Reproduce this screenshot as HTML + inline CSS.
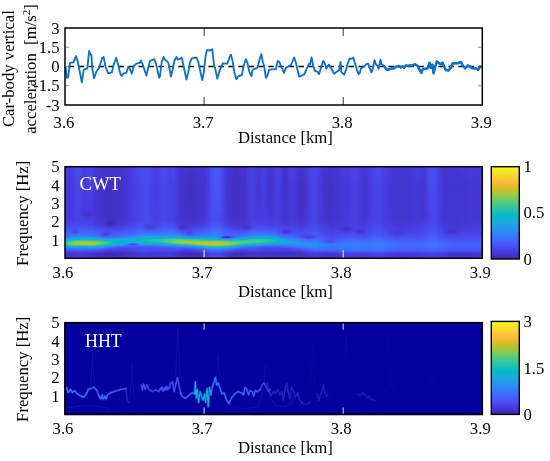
<!DOCTYPE html>
<html><head><meta charset="utf-8"><title>Figure</title>
<style>html,body{margin:0;padding:0;background:#fff;overflow:hidden}body{width:550px;height:461px;position:relative}.hm{position:absolute;overflow:hidden}.hm i{position:absolute;top:0;height:100%;display:block}</style></head>
<body>
<div class="hm" style="left:65.0px;top:166.7px;width:417.3px;height:91.6px"><i style="left:0.0px;width:2.5px;background:linear-gradient(#463ee1 0.0%,#463ada 23.5%,#463bdc 57.3%,#4742e6 63.9%,#465efb 72.6%,#416bfe 75.3%,#3a74fe 76.4%,#2f81fa 77.5%,#269ae8 79.1%,#19acdc 80.2%,#09b4d1 80.8%,#02bac5 81.3%,#24c2ae 82.4%,#2dc4a6 83.0%,#31c6a0 84.1%,#2ec4a5 84.6%,#24c1ae 85.2%,#0cbdbc 85.7%,#04b6cc 86.2%,#19addc 86.8%,#2a92ee 87.9%,#2e84f8 88.4%,#3876fe 89.0%,#4269fe 89.5%,#4759f9 90.6%,#4745e9 92.8%,#4537d6 94.4%,#4433cd 96.1%,#463adb 100.0%)"></i><i style="left:2.0px;width:2.5px;background:linear-gradient(#463cde 0.0%,#4538d8 21.8%,#463bdc 57.3%,#4740e4 62.8%,#4759f8 71.5%,#426afe 74.8%,#3080fb 77.0%,#2c8ff0 78.1%,#1aabdd 79.7%,#0ab4d1 80.2%,#02bbc3 80.8%,#1bc0b4 81.3%,#2dc4a5 81.9%,#40ca8d 83.0%,#47cb87 83.5%,#49cb85 84.1%,#42ca8b 84.6%,#29c3a9 85.7%,#0bbdbd 86.2%,#08b5d0 86.8%,#1da8e0 87.3%,#327dfc 89.0%,#3f6fff 89.5%,#475dfa 90.6%,#484df0 92.2%,#463bdd 93.9%,#4434d0 95.5%,#4434cf 96.6%,#463bdc 100.0%)"></i><i style="left:4.0px;width:2.5px;background:linear-gradient(#463bde 0.0%,#4538d8 21.3%,#463cde 57.9%,#4744e8 63.9%,#4850f3 69.3%,#4758f8 72.1%,#4368fd 74.2%,#3677fe 75.9%,#2e85f8 77.0%,#2896eb 78.1%,#1ca9df 79.1%,#0db3d4 79.7%,#02bac4 80.2%,#1dc0b3 80.8%,#30c5a1 81.3%,#3eca8f 81.9%,#64cd6f 83.0%,#6ecd66 83.5%,#71cd64 84.1%,#67cd6c 84.6%,#53cc7d 85.2%,#3ac994 85.7%,#27c2ab 86.2%,#03bbc2 86.8%,#13b0d7 87.3%,#22a2e4 87.9%,#2e83f9 89.0%,#3974fe 89.5%,#4368fe 90.1%,#484ff2 92.2%,#463cdf 93.9%,#4435d1 95.5%,#4536d2 97.2%,#463bdd 100.0%)"></i><i style="left:6.0px;width:2.5px;background:linear-gradient(#473fe2 0.0%,#463bdd 23.5%,#473ee1 58.4%,#484ef1 68.2%,#484cf0 71.0%,#4660fc 73.7%,#3b73fe 75.3%,#2f81fa 76.4%,#2699e9 78.1%,#19addc 79.1%,#06b6ce 79.7%,#0abdbd 80.2%,#27c2ab 80.8%,#36c898 81.3%,#63cd70 82.4%,#76cc60 83.0%,#82cc58 83.5%,#84cb56 84.1%,#7acc5e 84.6%,#63cd70 85.2%,#45cb89 85.7%,#2fc5a3 86.2%,#0dbdbc 86.8%,#0bb3d2 87.3%,#1fa5e2 87.9%,#2e86f7 89.0%,#3677fe 89.5%,#416bfe 90.1%,#475cfa 91.2%,#4849ed 92.8%,#4537d7 95.0%,#4535d2 96.1%,#463cdf 100.0%)"></i><i style="left:8.0px;width:2.5px;background:linear-gradient(#4744e8 0.0%,#4740e3 26.2%,#4741e5 59.0%,#484ff2 67.1%,#4747eb 71.0%,#4852f4 72.6%,#406dfe 74.8%,#2e83f9 76.4%,#259de7 78.1%,#1fa6e1 78.6%,#14b0d8 79.1%,#01b8c9 79.7%,#2ec5a3 80.8%,#3fca8e 81.3%,#74cc62 82.4%,#89cb52 83.0%,#95ca49 83.5%,#97ca47 84.1%,#8dcb4f 84.6%,#74cc62 85.2%,#53cc7d 85.7%,#1ac0b5 86.8%,#04b6cd 87.3%,#1da9e0 87.9%,#337bfd 89.5%,#3f6efe 90.1%,#465efb 91.2%,#484bee 92.8%,#463bdd 94.4%,#4536d4 96.1%,#463de0 100.0%)"></i><i style="left:10.0px;width:2.5px;background:linear-gradient(#4849ed 0.0%,#4744e8 30.0%,#4744e8 60.0%,#4851f3 67.1%,#4849ed 71.0%,#4854f5 72.6%,#4368fe 74.2%,#307ffb 75.9%,#2796eb 77.5%,#1ca9df 78.6%,#02bbc3 79.7%,#21c1b0 80.2%,#4bcb84 81.3%,#6acd6a 81.9%,#86cb55 82.4%,#9bc944 83.0%,#a7c73c 83.5%,#a9c73a 84.1%,#9fc942 84.6%,#86cb54 85.2%,#62cd71 85.7%,#3cc991 86.2%,#24c2ae 86.8%,#01b9c8 87.3%,#1aacdd 87.9%,#2d8cf3 89.0%,#317dfc 89.5%,#3d70ff 90.1%,#4466fd 90.6%,#4853f5 92.2%,#4740e3 93.9%,#4537d7 95.5%,#4538d7 97.2%,#463ee0 100.0%)"></i><i style="left:12.0px;width:2.5px;background:linear-gradient(#484bef 0.0%,#4745e9 30.6%,#4743e7 57.9%,#484bef 63.9%,#4853f5 68.2%,#4853f5 71.5%,#4466fd 73.7%,#347afd 75.3%,#2d87f7 76.4%,#2797ea 77.5%,#1baade 78.6%,#0bb4d2 79.1%,#05bbc1 79.7%,#24c1ae 80.2%,#36c899 80.8%,#4fcc80 81.3%,#8ccb50 82.4%,#a0c841 83.0%,#acc738 83.5%,#aec637 84.1%,#a4c83e 84.6%,#8ccb50 85.2%,#66cd6d 85.7%,#3fca8e 86.2%,#27c2ac 86.8%,#01b9c6 87.3%,#19addc 87.9%,#2d8df2 89.0%,#317efb 89.5%,#3d71ff 90.1%,#4660fc 91.2%,#4745ea 93.3%,#4639da 95.0%,#4537d6 96.6%,#463ee1 100.0%)"></i><i style="left:14.0px;width:2.5px;background:linear-gradient(#4747eb 0.0%,#4742e6 32.8%,#4742e6 58.4%,#484ff2 65.5%,#475cfa 71.5%,#3d70ff 74.2%,#2f81fa 75.9%,#2c8ff0 77.0%,#1babde 78.6%,#09b4d1 79.1%,#06bcc0 79.7%,#26c2ad 80.2%,#37c897 80.8%,#73cd63 81.9%,#90ca4d 82.4%,#a5c83d 83.0%,#b1c636 83.5%,#b3c534 84.1%,#a9c73b 84.6%,#90ca4d 85.2%,#6acd69 85.7%,#42ca8c 86.2%,#29c3aa 86.8%,#02bac5 87.3%,#18addb 87.9%,#2c8ef2 89.0%,#307ffb 89.5%,#3c71ff 90.1%,#4660fc 91.2%,#484cf0 92.8%,#463cde 94.4%,#4537d6 96.1%,#463bdc 98.3%,#463ee1 100.0%)"></i><i style="left:16.0px;width:2.5px;background:linear-gradient(#4741e5 0.0%,#463de0 20.7%,#463cdf 49.1%,#463de0 55.1%,#4747ec 63.3%,#4562fc 71.5%,#3b72ff 74.2%,#2d88f6 76.4%,#2798ea 77.5%,#1aabdd 78.6%,#08b4d0 79.1%,#07bcbf 79.7%,#27c2ab 80.2%,#39c895 80.8%,#77cc60 81.9%,#94ca4a 82.4%,#a9c73a 83.0%,#b5c533 83.5%,#b7c532 84.1%,#adc638 84.6%,#95ca4a 85.2%,#6ecd66 85.7%,#44cb89 86.2%,#2ac3a9 86.8%,#02bac4 87.3%,#17aedb 87.9%,#249ee6 88.4%,#307ffb 89.5%,#3c71ff 90.1%,#4660fc 91.2%,#484cef 92.8%,#473fe3 93.9%,#4537d6 95.5%,#4537d7 97.2%,#463de0 100.0%)"></i><i style="left:18.0px;width:2.5px;background:linear-gradient(#463ddf 0.0%,#463adb 22.9%,#463bdd 45.9%,#4537d6 51.9%,#4746ea 63.3%,#465ffb 70.4%,#3e6fff 73.7%,#2f82fa 75.9%,#2c8ff0 77.0%,#1aabdd 78.6%,#07b5d0 79.1%,#09bcbe 79.7%,#28c3aa 80.2%,#3ac993 80.8%,#7acc5d 81.9%,#98c947 82.4%,#adc638 83.0%,#b9c431 83.5%,#bbc42f 84.1%,#b1c635 84.6%,#99c946 85.2%,#72cd64 85.7%,#47cb87 86.2%,#2cc4a7 86.8%,#02bbc3 87.3%,#17aeda 87.9%,#249ee6 88.4%,#307ffb 89.5%,#3d71ff 90.1%,#4660fb 91.2%,#484bef 92.8%,#463bdd 94.4%,#4536d3 96.1%,#463ddf 100.0%)"></i><i style="left:20.0px;width:2.5px;background:linear-gradient(#473ee1 0.0%,#463bdc 24.6%,#463adc 45.9%,#4434cf 51.3%,#4537d6 54.6%,#4741e5 61.1%,#4850f2 66.6%,#4269fe 72.6%,#3777fe 74.8%,#2d88f6 76.4%,#2798ea 77.5%,#1aacdd 78.6%,#07b5cf 79.1%,#0abdbe 79.7%,#2ac3a9 80.2%,#3cc992 80.8%,#7ecc5b 81.9%,#9cc944 82.4%,#b1c635 83.0%,#bdc32e 83.5%,#bfc32d 84.1%,#b5c533 84.6%,#9dc943 85.2%,#76cc61 85.7%,#49cb85 86.2%,#2dc4a6 86.8%,#03bbc2 87.3%,#16aeda 87.9%,#249ee6 88.4%,#317efb 89.5%,#3d70ff 90.1%,#4466fd 90.6%,#4852f4 92.2%,#463ee1 93.9%,#4536d3 95.5%,#4536d4 97.2%,#463cde 100.0%)"></i><i style="left:22.0px;width:2.5px;background:linear-gradient(#4742e6 0.0%,#463de0 28.4%,#463bde 45.3%,#4434ce 51.3%,#4536d3 54.0%,#463de0 58.4%,#484bef 65.5%,#4466fd 72.1%,#3c72ff 74.2%,#2f80fa 75.9%,#2c8ef1 77.0%,#23a0e5 78.1%,#1babde 78.6%,#09b4d1 79.1%,#07bcbf 79.7%,#28c2ab 80.2%,#3ac994 80.8%,#7acc5e 81.9%,#98c947 82.4%,#adc638 83.0%,#b9c430 83.5%,#bbc42f 84.1%,#b1c635 84.6%,#98c947 85.2%,#71cd64 85.7%,#46cb88 86.2%,#2bc3a8 86.8%,#02bac4 87.3%,#18aedb 87.9%,#2d8df2 89.0%,#317dfc 89.5%,#3e6fff 90.1%,#465efb 91.2%,#4849ed 92.8%,#4639da 94.4%,#4435d1 95.5%,#4435d2 97.2%,#463bdc 100.0%)"></i><i style="left:24.0px;width:2.5px;background:linear-gradient(#4744e8 0.0%,#463ee1 32.8%,#463bde 45.9%,#4435d1 51.9%,#4741e5 61.7%,#4851f3 67.1%,#426afe 73.1%,#347afd 75.3%,#2e86f8 76.4%,#2896ec 77.5%,#1caadf 78.6%,#0bb3d2 79.1%,#05bbc1 79.7%,#25c2ad 80.2%,#38c897 80.8%,#54cc7c 81.3%,#94ca4a 82.4%,#a9c73a 83.0%,#b5c533 83.5%,#b7c531 84.1%,#adc638 84.6%,#94ca4a 85.2%,#6dcd67 85.7%,#43ca8b 86.2%,#28c3aa 86.8%,#01b9c6 87.3%,#19acdc 87.9%,#2d8bf3 89.0%,#327cfc 89.5%,#3f6dfe 90.1%,#475dfa 91.2%,#4848ec 92.8%,#4538d8 94.4%,#4434cf 95.5%,#4434ce 96.6%,#463ada 100.0%)"></i><i style="left:26.0px;width:2.5px;background:linear-gradient(#4741e5 0.0%,#463cdf 25.1%,#463adc 45.9%,#4537d5 52.4%,#4741e4 62.2%,#4851f3 67.7%,#4369fe 73.1%,#3678fe 75.3%,#2e84f8 76.4%,#2994ed 77.5%,#1da8e0 78.6%,#0eb2d4 79.1%,#02bbc3 79.7%,#23c1af 80.2%,#36c799 80.8%,#50cc80 81.3%,#8fcb4e 82.4%,#a4c83e 83.0%,#b0c636 83.5%,#b3c534 84.1%,#a8c73b 84.6%,#8fcb4e 85.2%,#68cd6b 85.7%,#3fca8e 86.2%,#26c2ad 86.8%,#01b9c8 87.3%,#1aabdd 87.9%,#269ae8 88.4%,#2d8af5 89.0%,#347afd 89.5%,#416cfe 90.1%,#475bf9 91.2%,#4746eb 92.8%,#4537d5 94.4%,#4332ca 96.1%,#4538d8 100.0%)"></i><i style="left:28.0px;width:2.5px;background:linear-gradient(#463cde 0.0%,#4538d8 22.9%,#4537d6 49.1%,#4538d7 55.1%,#473fe3 62.8%,#465ffb 71.5%,#406cfe 74.2%,#327bfc 75.9%,#2d8af5 77.0%,#1ea7e1 78.6%,#12b1d6 79.1%,#01bac5 79.7%,#1fc0b2 80.2%,#4bcb83 81.3%,#8acb52 82.4%,#9fc941 83.0%,#acc739 83.5%,#aec637 84.1%,#a3c83e 84.6%,#8acb52 85.2%,#63cd6f 85.7%,#3cc991 86.2%,#23c1af 86.8%,#01b8ca 87.3%,#1caadf 87.9%,#2d88f6 89.0%,#3678fd 89.5%,#426afe 90.1%,#4759f9 91.2%,#4745e9 92.8%,#4535d2 94.4%,#4331c7 96.1%,#4434cf 98.3%,#4537d6 100.0%)"></i><i style="left:30.0px;width:2.5px;background:linear-gradient(#4538d7 0.0%,#4435d1 20.2%,#4536d4 56.2%,#463ddf 62.8%,#484aee 67.1%,#4563fd 73.1%,#3c72ff 75.3%,#307ffb 76.4%,#2b90f0 77.5%,#20a5e2 78.6%,#14b0d8 79.1%,#01b9c8 79.7%,#31c69f 80.8%,#47cb87 81.3%,#84cc56 82.4%,#9ac945 83.0%,#a7c73c 83.5%,#a9c73a 84.1%,#9ec942 84.6%,#85cb56 85.2%,#5fcd73 85.7%,#39c994 86.2%,#03b7cc 87.3%,#1da8e0 87.9%,#2e86f7 89.0%,#3876fe 89.5%,#4368fe 90.1%,#4757f8 91.2%,#4743e7 92.8%,#4434cf 94.4%,#4330c5 95.5%,#4331c6 97.2%,#4535d2 99.9%,#4536d2 100.0%)"></i><i style="left:32.0px;width:2.5px;background:linear-gradient(#4536d4 0.0%,#4433cc 20.7%,#4435d0 56.2%,#463adc 62.8%,#4757f7 71.0%,#4562fc 74.2%,#3d71ff 75.9%,#2f82fa 77.0%,#23a0e5 78.6%,#1aacdd 79.1%,#06b5cf 79.7%,#0bbdbd 80.2%,#2ac3a9 80.8%,#3ac993 81.3%,#6fcd66 82.4%,#84cb56 83.0%,#91ca4c 83.5%,#93ca4a 84.1%,#89cb53 84.6%,#6fcd66 85.2%,#4dcc82 85.7%,#31c69f 86.2%,#10beba 86.8%,#0cb3d3 87.3%,#20a4e3 87.9%,#2a93ee 88.4%,#2f82f9 89.0%,#3c72ff 89.5%,#4464fd 90.1%,#4848ec 92.2%,#4536d3 93.9%,#4331c5 95.0%,#422fc0 96.6%,#4434cf 100.0%)"></i><i style="left:34.0px;width:2.5px;background:linear-gradient(#4535d2 0.0%,#4332ca 21.8%,#4434cd 56.8%,#4539d8 62.8%,#4746ea 67.1%,#4853f4 71.0%,#4757f7 74.2%,#4466fd 75.9%,#3479fd 77.0%,#2c90f0 78.1%,#1ea7e1 79.1%,#10b2d5 79.7%,#02bac4 80.2%,#1fc0b2 80.8%,#44ca8a 81.9%,#6ecd66 83.0%,#7bcc5d 83.5%,#7dcc5b 84.1%,#72cd63 84.6%,#5bcc76 85.2%,#3eca8f 85.7%,#2ac3a9 86.2%,#04bbc2 86.8%,#15afd8 87.3%,#23a0e5 87.9%,#317efb 89.0%,#3f6efe 89.5%,#4561fc 90.1%,#4746ea 92.2%,#4434cf 93.9%,#422ebe 95.5%,#422ebf 97.2%,#4433cc 99.9%,#4433cc 100.0%)"></i><i style="left:36.0px;width:2.5px;background:linear-gradient(#4435d1 0.0%,#4332c9 20.7%,#4433cb 56.8%,#4536d3 62.2%,#4742e6 66.6%,#484ef1 69.9%,#484df0 72.1%,#4849ed 73.7%,#484df0 74.8%,#4465fd 76.4%,#3c71ff 77.0%,#307ffb 77.5%,#2698ea 78.6%,#20a5e3 79.1%,#14b0d8 79.7%,#01b8c8 80.2%,#2ec4a5 81.3%,#3bc993 81.9%,#5dcc74 83.0%,#66cd6d 83.5%,#66cd6d 84.1%,#5acc77 84.6%,#31c6a0 85.7%,#16bfb7 86.2%,#05b6ce 86.8%,#1da8e0 87.3%,#2e87f7 88.4%,#3776fe 89.0%,#4367fd 89.5%,#4854f5 90.6%,#4743e7 92.2%,#4433cc 93.9%,#422ebf 95.0%,#412cba 96.1%,#4332ca 100.0%)"></i><i style="left:38.0px;width:2.5px;background:linear-gradient(#4434d0 0.0%,#4331c8 19.7%,#4332ca 61.1%,#4536d4 63.9%,#4747eb 68.2%,#484cef 71.0%,#473fe2 73.7%,#4742e6 74.8%,#465dfb 76.4%,#416bfe 77.0%,#347afd 77.5%,#22a2e4 79.1%,#18aedb 79.7%,#03b7cc 80.2%,#0ebdbb 80.8%,#28c3ab 81.3%,#41ca8d 82.4%,#4dcc82 83.0%,#54cc7d 83.5%,#51cc7e 84.1%,#45cb89 84.6%,#24c1af 85.7%,#02bac4 86.2%,#15afd9 86.8%,#23a0e5 87.3%,#3080fb 88.4%,#3e6fff 89.0%,#4562fc 89.5%,#4850f3 90.6%,#4741e5 92.2%,#4332c9 93.9%,#412dbc 95.0%,#412cb8 96.6%,#4331c8 100.0%)"></i><i style="left:40.0px;width:2.5px;background:linear-gradient(#4434cf 0.0%,#4331c7 18.6%,#4331c6 59.0%,#422fc0 61.7%,#4332ca 63.9%,#4741e5 67.1%,#484bee 69.9%,#4746ea 72.1%,#463de0 73.7%,#4741e5 74.8%,#4851f3 75.9%,#4269fe 77.0%,#3678fd 77.5%,#1aacdd 79.7%,#07b5d0 80.2%,#06bbc1 80.8%,#1fc0b2 81.3%,#2ec5a4 81.9%,#3dc990 83.0%,#40ca8d 83.5%,#3dca90 84.1%,#29c3aa 85.2%,#0bbdbd 85.7%,#08b4d0 86.2%,#1da8e0 86.8%,#2d88f6 87.9%,#3678fd 88.4%,#4369fe 89.0%,#4853f5 90.1%,#4744e9 91.7%,#4331c6 93.9%,#412cba 95.0%,#402bb7 96.6%,#4331c6 100.0%)"></i><i style="left:42.0px;width:2.5px;background:linear-gradient(#4434cd 0.0%,#4330c5 21.8%,#4330c5 57.9%,#402ab4 61.7%,#412cba 63.3%,#463ddf 66.6%,#4747eb 68.8%,#484bef 71.0%,#4745e9 73.7%,#4849ed 74.8%,#4661fc 76.4%,#406cfe 77.0%,#347afd 77.5%,#1ca9df 79.7%,#01b9c6 80.8%,#26c2ad 81.9%,#2fc5a3 82.4%,#34c79b 83.5%,#31c69f 84.1%,#29c3aa 84.6%,#01b8ca 85.7%,#18aedb 86.2%,#2b91ef 87.3%,#2f81fa 87.9%,#3d70ff 88.4%,#4563fc 89.0%,#484ff2 90.1%,#463de0 92.2%,#4230c4 93.9%,#402bb6 95.5%,#402ab5 96.6%,#4331c5 100.0%)"></i><i style="left:44.0px;width:2.5px;background:linear-gradient(#4433cd 0.0%,#4330c5 19.1%,#4230c4 57.9%,#3f28af 61.7%,#3f29b0 62.8%,#422fc2 64.4%,#463cde 66.6%,#4849ed 69.3%,#484ef1 73.1%,#4854f5 74.8%,#465ffb 75.9%,#3c71ff 77.0%,#327cfc 77.5%,#1ea7e1 79.7%,#14b0d8 80.2%,#03b7cc 80.8%,#07bcbf 81.3%,#19bfb5 81.9%,#25c2ad 82.4%,#2bc3a8 83.5%,#26c2ad 84.1%,#16bfb7 84.6%,#01bac5 85.2%,#1fa6e2 86.2%,#3579fd 87.9%,#426afe 88.4%,#4853f5 89.5%,#4744e8 91.2%,#463cdf 92.2%,#4230c3 93.9%,#402bb8 95.0%,#402ab5 96.6%,#4330c5 100.0%)"></i><i style="left:46.0px;width:2.5px;background:linear-gradient(#4433cd 0.0%,#4330c5 19.7%,#4330c4 57.9%,#402ab4 61.7%,#412cb9 63.3%,#463cde 66.6%,#4849ed 69.3%,#4757f7 74.2%,#416bfe 76.4%,#317dfc 77.5%,#259be8 79.1%,#18addb 80.2%,#09b4d1 80.8%,#01b9c7 81.3%,#16bfb7 82.4%,#1cc0b4 83.0%,#1bc0b4 83.5%,#11beba 84.1%,#02bac4 84.6%,#09b4d1 85.2%,#1babde 85.7%,#2c90f0 86.8%,#2f81fa 87.3%,#3c72ff 87.9%,#4564fd 88.4%,#4849ed 90.1%,#463bdd 92.2%,#422fc2 93.9%,#402ab4 95.5%,#402bb7 97.2%,#4330c5 100.0%)"></i><i style="left:48.0px;width:2.5px;background:linear-gradient(#4434ce 0.0%,#4331c6 19.1%,#4330c5 59.0%,#422ebf 62.2%,#4332c9 63.9%,#4740e3 67.1%,#4850f3 71.5%,#465efb 74.8%,#3f6eff 76.4%,#307ffb 77.5%,#2b91ef 78.6%,#19addc 80.2%,#01b8c9 81.3%,#0dbdbb 82.4%,#12beb9 83.0%,#10beba 83.5%,#05bbc1 84.1%,#02b7cb 84.6%,#14b0d8 85.2%,#2699e9 86.2%,#327cfc 87.3%,#406dfe 87.9%,#4660fb 88.4%,#484df0 89.5%,#4741e5 91.2%,#463bdc 92.2%,#412dbb 94.4%,#402ab4 95.5%,#412cba 97.7%,#4330c5 100.0%)"></i><i style="left:50.0px;width:2.5px;background:linear-gradient(#4434cf 0.0%,#4331c7 18.6%,#4332c8 61.1%,#4435d2 63.9%,#4745e9 68.2%,#475cfa 74.2%,#3e70ff 76.4%,#2f80fa 77.5%,#259be7 79.1%,#19acdc 80.2%,#02b7cb 81.3%,#02bac4 81.9%,#09bcbe 83.0%,#01b9c8 84.1%,#1babde 85.2%,#2a93ee 86.2%,#2e84f8 86.8%,#3876fe 87.3%,#4368fd 87.9%,#4852f4 89.0%,#4741e6 90.6%,#463adc 92.2%,#422fc2 93.9%,#402bb7 95.0%,#402ab5 96.6%,#4331c6 100.0%)"></i><i style="left:52.0px;width:2.5px;background:linear-gradient(#4434cf 0.0%,#4331c7 21.8%,#4332c9 56.8%,#4435d0 62.2%,#4740e3 66.6%,#4854f5 72.1%,#4561fc 74.8%,#3c71ff 76.4%,#2f82fa 77.5%,#20a5e2 79.7%,#0eb2d4 80.8%,#04b6cc 81.3%,#02bac3 82.4%,#01b9c7 83.5%,#07b5d0 84.1%,#17aeda 84.6%,#2699e9 85.7%,#317efb 86.8%,#3e6fff 87.3%,#4562fc 87.9%,#4848ec 89.5%,#473fe2 91.2%,#463adb 92.2%,#412dbc 94.4%,#402ab5 96.1%,#4331c7 100.0%)"></i><i style="left:54.0px;width:2.5px;background:linear-gradient(#4435d0 0.0%,#4331c8 21.8%,#4332ca 56.2%,#4535d2 61.7%,#4743e7 67.1%,#465efb 74.2%,#406cfe 75.9%,#2e84f9 77.5%,#2895ec 78.6%,#19acdc 80.2%,#06b5ce 81.3%,#01b8ca 81.9%,#01b8c9 83.0%,#05b6ce 83.5%,#1da9e0 84.6%,#2e85f8 86.2%,#3777fe 86.8%,#4269fe 87.3%,#484cf0 89.0%,#4741e5 90.1%,#463de0 91.7%,#4536d3 92.8%,#412ebd 94.4%,#402bb6 96.1%,#4332c8 100.0%)"></i><i style="left:56.0px;width:2.5px;background:linear-gradient(#4435d1 0.0%,#4332c9 20.7%,#4433cc 56.8%,#4538d7 62.8%,#4848ec 68.2%,#4660fc 74.2%,#3e6fff 75.9%,#317efb 77.0%,#23a0e5 79.1%,#17aeda 80.2%,#05b6ce 81.3%,#01b8c9 82.4%,#03b7cb 83.0%,#0bb3d2 83.5%,#18addb 84.1%,#269ae9 85.2%,#3080fa 86.2%,#3c72ff 86.8%,#4465fd 87.3%,#484aee 89.0%,#473fe2 90.6%,#463adc 92.2%,#422ebf 94.4%,#412cb8 96.1%,#4332cb 100.0%)"></i><i style="left:58.0px;width:2.5px;background:linear-gradient(#4536d2 0.0%,#4433cb 20.7%,#4434ce 56.2%,#463adb 63.3%,#4755f6 71.5%,#4367fd 74.8%,#347afd 76.4%,#2a92ee 78.1%,#1caadf 79.7%,#04b6cd 81.3%,#01b7ca 82.4%,#06b5cf 83.0%,#1da9e0 84.1%,#2a93ed 85.2%,#337bfc 86.2%,#3f6efe 86.8%,#4758f8 87.9%,#4744e8 89.5%,#473fe2 91.2%,#463bdd 92.2%,#422fc2 94.4%,#412dbb 96.1%,#4433cd 100.0%)"></i><i style="left:60.0px;width:2.5px;background:linear-gradient(#4537d6 0.0%,#4434ce 20.7%,#4435d1 56.2%,#463cde 63.3%,#4757f7 71.5%,#4465fd 74.2%,#3876fe 75.9%,#2e85f8 77.0%,#2896ec 78.1%,#1aacdd 79.7%,#08b4d0 80.8%,#02b7cb 81.9%,#04b6cc 82.4%,#0db3d3 83.0%,#23a0e5 84.1%,#307ffb 85.7%,#426afe 86.8%,#484ff2 88.4%,#4741e5 90.1%,#463cdf 92.2%,#4330c5 94.4%,#422ebe 96.1%,#4435d0 100.0%)"></i><i style="left:62.0px;width:2.5px;background:linear-gradient(#4639da 0.0%,#4536d3 22.9%,#4537d6 57.3%,#473ee1 63.3%,#475cfa 72.1%,#4369fe 74.2%,#2f81fa 76.4%,#23a1e4 78.6%,#0eb2d4 80.2%,#06b5cf 80.8%,#02b7cb 81.9%,#07b5cf 82.4%,#16afda 83.0%,#2c8ff0 84.1%,#307ffb 84.6%,#3875fe 85.2%,#4466fd 86.8%,#4848ec 89.0%,#4741e5 90.6%,#463ee1 92.2%,#4332c8 94.4%,#422fc2 96.1%,#4536d4 100.0%)"></i><i style="left:64.0px;width:2.5px;background:linear-gradient(#463cdf 0.0%,#4538d8 22.9%,#463ada 56.8%,#4740e3 62.8%,#4758f8 70.4%,#406dfe 74.2%,#307ffb 75.9%,#249de6 78.1%,#12b1d7 79.7%,#08b4d0 80.2%,#01b8c9 81.3%,#01b7ca 81.9%,#09b4d1 82.4%,#1caadf 83.0%,#2995ec 83.5%,#3677fe 84.1%,#4660fc 84.6%,#475cfa 85.2%,#4465fd 86.2%,#475cfa 87.3%,#4849ed 89.0%,#4742e6 90.6%,#4740e3 92.2%,#4433cc 94.4%,#4331c6 96.1%,#4538d8 100.0%)"></i><i style="left:66.0px;width:2.5px;background:linear-gradient(#473fe3 0.0%,#463bdd 25.1%,#463ddf 57.9%,#4746eb 64.4%,#4562fc 72.1%,#3e70ff 74.2%,#2f82fa 75.9%,#23a0e5 78.1%,#18addb 79.1%,#05b6ce 80.2%,#01b9c8 81.3%,#01b8c9 81.9%,#0ab4d2 82.4%,#1ea7e1 83.0%,#2d8cf3 83.5%,#4465fd 84.1%,#484cf0 84.6%,#484bef 85.2%,#4758f8 85.7%,#4562fc 86.2%,#4562fc 86.8%,#4747eb 89.5%,#4742e6 92.2%,#4433cd 95.0%,#4433cc 96.6%,#463adb 99.9%,#463adb 100.0%)"></i><i style="left:68.0px;width:2.5px;background:linear-gradient(#4742e6 0.0%,#463ee1 27.8%,#4740e3 58.4%,#4848ec 63.9%,#4464fd 72.1%,#3b73fe 74.2%,#2e85f8 75.9%,#22a2e4 78.1%,#15afd9 79.1%,#03b7cc 80.2%,#01b9c6 81.3%,#01b9c8 81.9%,#08b4d0 82.4%,#1ea8e0 83.0%,#2d8cf3 83.5%,#4466fd 84.1%,#484df0 84.6%,#484cef 85.2%,#4758f8 85.7%,#4563fc 86.2%,#4563fd 86.8%,#484df0 89.0%,#4746eb 90.6%,#4747eb 91.7%,#4435d1 95.0%,#4435d0 96.6%,#463cde 99.9%,#463cde 100.0%)"></i><i style="left:70.0px;width:2.5px;background:linear-gradient(#4745e9 0.0%,#4741e4 26.2%,#4742e6 58.4%,#4850f3 66.0%,#426afe 72.6%,#3875fe 74.2%,#2f81fa 75.3%,#259de7 77.5%,#13b1d7 79.1%,#07b5d0 79.7%,#01b8ca 80.2%,#02bac4 81.3%,#01b9c6 81.9%,#05b6ce 82.4%,#1aabdd 83.0%,#2796eb 83.5%,#3579fd 84.1%,#4562fc 84.6%,#465dfb 85.2%,#4368fe 86.2%,#4466fd 86.8%,#484ef1 89.0%,#4848ec 90.6%,#4849ed 91.7%,#4537d5 95.0%,#4536d4 96.6%,#463ee1 100.0%)"></i><i style="left:72.0px;width:2.5px;background:linear-gradient(#4747eb 0.0%,#4743e7 25.1%,#4744e8 58.4%,#4852f4 66.0%,#426afe 72.1%,#3579fd 74.2%,#2b92ef 76.4%,#17aeda 78.6%,#02b7cb 79.7%,#05bbc1 80.8%,#07bcc0 81.3%,#04bbc2 81.9%,#01b8c9 82.4%,#12b1d6 83.0%,#21a3e3 83.5%,#2c90f0 84.1%,#307ffb 84.6%,#3876fe 85.2%,#4269fe 86.8%,#4755f6 88.4%,#484bee 90.1%,#484bee 91.7%,#463adb 94.4%,#4538d7 96.6%,#4740e3 99.9%,#4740e3 100.0%)"></i><i style="left:74.0px;width:2.5px;background:linear-gradient(#4848ec 0.0%,#4744e8 30.6%,#4746ea 58.4%,#4851f4 65.5%,#4269fe 71.5%,#3777fe 73.7%,#2e87f7 75.3%,#259ce7 77.0%,#13b1d7 78.6%,#06b5cf 79.1%,#01b9c7 79.7%,#0bbdbd 80.8%,#0dbdbc 81.3%,#09bcbe 81.9%,#02bac5 82.4%,#08b5d0 83.0%,#1aabdd 83.5%,#2b91ef 84.6%,#317efb 85.7%,#416bfe 86.8%,#4756f7 88.4%,#484cf0 90.1%,#484cf0 91.7%,#463adb 95.0%,#4639d9 96.6%,#4741e5 100.0%)"></i><i style="left:76.0px;width:2.5px;background:linear-gradient(#484aee 0.0%,#4746ea 24.0%,#4747ec 58.4%,#4853f5 66.6%,#4368fd 71.0%,#3975fe 73.1%,#2d89f5 75.3%,#249ee6 77.0%,#19addc 78.1%,#02b7cb 79.1%,#02bbc3 79.7%,#12beb9 80.8%,#14beb8 81.3%,#04bbc2 82.4%,#04b6cc 83.0%,#15afd9 83.5%,#20a5e2 84.1%,#2f82f9 85.7%,#3777fe 86.2%,#4564fd 87.3%,#4852f4 89.0%,#484df0 90.6%,#484bee 92.2%,#463cdf 94.4%,#4639da 96.1%,#4742e6 100.0%)"></i><i style="left:78.0px;width:2.5px;background:linear-gradient(#484bef 0.0%,#4747eb 28.4%,#4848ec 58.4%,#4850f3 67.1%,#4367fd 71.0%,#3776fe 73.1%,#2e85f8 74.8%,#23a1e4 77.0%,#15afd9 78.1%,#08b5d0 78.6%,#01b9c7 79.1%,#19bfb5 80.8%,#1abfb5 81.3%,#14beb8 81.9%,#07bcc0 82.4%,#01b7ca 83.0%,#13b1d7 83.5%,#259ce7 84.6%,#2c90f0 85.2%,#2e84f9 85.7%,#406dfe 86.8%,#475dfa 87.9%,#484ff2 89.5%,#484ef1 91.7%,#463de0 94.4%,#463adb 96.1%,#4743e7 100.0%)"></i><i style="left:80.0px;width:2.5px;background:linear-gradient(#484cf0 0.0%,#4848ec 28.4%,#4849ed 59.5%,#4849ed 63.9%,#4747eb 66.6%,#4854f5 68.8%,#4466fd 71.0%,#3777fe 73.1%,#2e87f7 74.8%,#259be8 76.4%,#1baade 77.5%,#12b1d6 78.1%,#04b6cd 78.6%,#02bac4 79.1%,#19bfb6 80.2%,#1fc0b2 81.3%,#19bfb6 81.9%,#09bdbe 82.4%,#01b8c9 83.0%,#1ea8e1 84.1%,#2c90f0 85.2%,#2e84f9 85.7%,#3678fe 86.2%,#406dfe 86.8%,#475cfa 87.9%,#484ff2 89.5%,#484ef1 91.7%,#463ddf 94.4%,#463adb 96.1%,#4743e7 100.0%)"></i><i style="left:82.0px;width:2.5px;background:linear-gradient(#484cf0 0.0%,#4747eb 31.1%,#4848ec 59.0%,#4849ed 62.8%,#473fe2 66.0%,#4745e9 67.7%,#465ffb 70.4%,#3777fe 73.1%,#2d88f6 74.8%,#259de7 76.4%,#1aacdd 77.5%,#01b8ca 78.6%,#06bcc0 79.1%,#1ec0b2 80.2%,#23c1af 80.8%,#23c1af 81.3%,#1cc0b3 81.9%,#0cbdbc 82.4%,#01b8c8 83.0%,#1da8e0 84.1%,#2c90f0 85.2%,#2e83f9 85.7%,#3777fe 86.2%,#4563fc 87.3%,#4852f4 89.0%,#484cf0 90.6%,#484bee 92.2%,#463cdf 94.4%,#463adb 96.6%,#4742e6 100.0%)"></i><i style="left:84.0px;width:2.5px;background:linear-gradient(#4849ed 0.0%,#4744e9 28.4%,#4746ea 58.4%,#4746eb 62.8%,#463bdd 66.0%,#4741e4 67.7%,#4758f8 69.9%,#406dfe 72.1%,#2f82fa 74.2%,#2c8ff1 75.3%,#18addb 77.5%,#0ab4d2 78.1%,#01b9c7 78.6%,#0abdbd 79.1%,#19bfb5 79.7%,#23c1af 80.2%,#26c2ad 81.3%,#1fc0b2 81.9%,#01b9c7 83.0%,#1ea8e1 84.1%,#2c8ff1 85.2%,#2f82f9 85.7%,#3876fe 86.2%,#416bfe 86.8%,#4755f6 88.4%,#484cef 90.1%,#484aee 92.2%,#463cde 94.4%,#4539d9 96.1%,#4742e6 100.0%)"></i><i style="left:86.0px;width:2.5px;background:linear-gradient(#4745e9 0.0%,#4741e5 26.2%,#4743e7 57.9%,#4745e9 62.8%,#463cde 66.0%,#473ee2 67.1%,#4757f8 69.9%,#3d70ff 72.6%,#2f81fa 74.2%,#2895ec 75.9%,#19addc 77.5%,#0ab4d2 78.1%,#01b9c7 78.6%,#0bbdbd 79.1%,#1bc0b4 79.7%,#25c2ae 80.2%,#29c3aa 81.3%,#24c1ae 81.9%,#02bac4 83.0%,#0bb3d2 83.5%,#1caadf 84.1%,#2b91ef 85.2%,#2e84f8 85.7%,#3677fe 86.2%,#416cfe 86.8%,#475bf9 87.9%,#484df0 89.5%,#4849ed 92.2%,#463bdc 94.4%,#4538d8 96.1%,#4741e5 100.0%)"></i><i style="left:88.0px;width:2.5px;background:linear-gradient(#4741e5 0.0%,#463de0 21.8%,#4741e4 56.8%,#4744e8 63.3%,#4742e6 66.6%,#4850f2 68.8%,#4563fc 71.0%,#3974fe 73.1%,#2e86f7 74.8%,#259de7 76.4%,#19addc 77.5%,#01b9c7 78.6%,#0cbdbc 79.1%,#1dc0b3 79.7%,#27c2ac 80.2%,#2cc4a7 81.3%,#28c2ab 81.9%,#1cc0b4 82.4%,#06bcc0 83.0%,#06b5cf 83.5%,#1aacdd 84.1%,#2a93ee 85.2%,#3579fd 86.2%,#406dfe 86.8%,#475bf9 87.9%,#484df0 89.5%,#4848ec 92.2%,#463adb 94.4%,#4538d7 96.1%,#4740e4 100.0%)"></i><i style="left:90.0px;width:2.5px;background:linear-gradient(#473fe2 0.0%,#463cde 24.0%,#4740e3 56.8%,#4849ed 66.6%,#4660fc 70.4%,#3e70ff 72.6%,#2e86f8 74.8%,#259ce7 76.4%,#19addc 77.5%,#0ab4d2 78.1%,#01b9c6 78.6%,#0ebebb 79.1%,#20c1b1 79.7%,#2ec4a5 80.8%,#2ec5a3 81.3%,#2cc4a7 81.9%,#22c1b0 82.4%,#0cbdbc 83.0%,#02b7cb 83.5%,#17aeda 84.1%,#2896ec 85.2%,#327bfc 86.2%,#3f6fff 86.8%,#475cfa 87.9%,#484df0 89.5%,#4848ec 92.2%,#463adb 94.4%,#4537d6 96.1%,#4740e4 100.0%)"></i><i style="left:92.0px;width:2.5px;background:linear-gradient(#4741e5 0.0%,#463de0 21.8%,#4740e4 56.8%,#484cf0 65.5%,#465ffb 69.9%,#3d70ff 72.6%,#2e86f7 74.8%,#259de7 76.4%,#18addb 77.5%,#09b4d1 78.1%,#02bac5 78.6%,#23c1af 79.7%,#2cc4a7 80.2%,#30c5a1 80.8%,#2fc5a3 81.9%,#28c2ab 82.4%,#01b9c7 83.5%,#1fa5e2 84.6%,#317efb 86.2%,#3d71ff 86.8%,#4466fd 87.3%,#4852f4 89.0%,#484bef 90.1%,#484bee 91.7%,#463adb 94.4%,#4537d6 96.1%,#4740e4 100.0%)"></i><i style="left:94.0px;width:2.5px;background:linear-gradient(#4745e9 0.0%,#4741e5 26.2%,#4743e7 58.4%,#4850f3 65.5%,#4368fd 71.0%,#3876fe 73.1%,#2f80fa 74.2%,#2895ec 75.9%,#1fa6e2 77.0%,#17aedb 77.5%,#07b5d0 78.1%,#02bac3 78.6%,#26c2ac 79.7%,#33c69e 80.8%,#34c79b 81.3%,#33c69e 81.9%,#2dc4a6 82.4%,#1ec0b2 83.0%,#04bbc2 83.5%,#0bb3d2 84.1%,#1da9e0 84.6%,#2c8ef1 85.7%,#2f81fa 86.2%,#4368fe 87.3%,#4853f5 89.0%,#484bef 90.6%,#4849ed 92.2%,#463adb 94.4%,#4537d6 96.1%,#4740e4 100.0%)"></i><i style="left:96.0px;width:2.5px;background:linear-gradient(#4849ed 0.0%,#4744e8 32.8%,#4745e9 58.4%,#4851f3 65.0%,#426afe 71.0%,#3678fe 73.1%,#2f82f9 74.2%,#2c8ff0 75.3%,#1ea8e1 77.0%,#14b0d8 77.5%,#03b7cc 78.1%,#07bcbf 78.6%,#1ec0b2 79.1%,#2cc4a7 79.7%,#38c896 80.8%,#3bc992 81.3%,#39c994 81.9%,#29c3aa 83.0%,#11beba 83.5%,#02b7cb 84.1%,#19addc 84.6%,#2a93ee 85.7%,#3678fe 86.8%,#416cfe 87.3%,#475af9 88.4%,#484df1 90.1%,#4849ed 92.2%,#463bdc 94.4%,#4538d7 96.1%,#4740e4 100.0%)"></i><i style="left:98.0px;width:2.5px;background:linear-gradient(#484bef 0.0%,#4745ea 31.7%,#4746ea 58.4%,#4852f4 65.0%,#4368fe 70.4%,#3579fd 73.1%,#2d8af5 74.8%,#23a0e5 76.4%,#11b1d6 77.5%,#01b8c9 78.1%,#0dbdbb 78.6%,#25c2ae 79.1%,#40ca8d 80.8%,#45cb89 81.3%,#43ca8a 81.9%,#3bc993 82.4%,#30c5a1 83.0%,#1fc0b1 83.5%,#02bac4 84.1%,#12b1d6 84.6%,#20a5e3 85.2%,#327bfc 86.8%,#3f6fff 87.3%,#475cfa 88.4%,#484ff1 90.1%,#484aee 92.2%,#463bdd 94.4%,#4538d7 96.1%,#4740e4 100.0%)"></i><i style="left:100.0px;width:2.5px;background:linear-gradient(#4849ed 0.0%,#4744e9 29.5%,#4746ea 58.4%,#4852f4 65.0%,#4369fe 70.4%,#347afd 73.1%,#2b91ef 75.3%,#1baade 77.0%,#01b9c7 78.1%,#29c3aa 79.1%,#3eca8f 80.2%,#49cb85 80.8%,#4fcc80 81.3%,#4fcc81 81.9%,#45cb89 82.4%,#29c3a9 83.5%,#0bbdbd 84.1%,#08b5d0 84.6%,#1da9e0 85.2%,#2d8df2 86.2%,#307ffb 86.8%,#3c72ff 87.3%,#465efb 88.4%,#484ff2 90.1%,#484aee 92.2%,#463bdc 94.4%,#4538d8 96.6%,#4740e4 100.0%)"></i><i style="left:102.0px;width:2.5px;background:linear-gradient(#4746ea 0.0%,#4742e6 24.0%,#4744e8 57.3%,#484ef1 63.9%,#4368fe 70.4%,#347afd 73.1%,#2d8bf4 74.8%,#22a2e4 76.4%,#1babde 77.0%,#0cb3d3 77.5%,#02bac5 78.1%,#2dc4a6 79.1%,#45cb88 80.2%,#53cc7d 80.8%,#5bcc77 81.3%,#5bcc77 81.9%,#51cc7f 82.4%,#30c5a1 83.5%,#01b8ca 84.6%,#19acdc 85.2%,#2c90f0 86.2%,#2f82fa 86.8%,#4368fe 87.9%,#4853f5 89.5%,#484aee 92.2%,#463adc 94.4%,#4537d6 96.1%,#4740e3 100.0%)"></i><i style="left:104.0px;width:2.5px;background:linear-gradient(#4744e8 0.0%,#4740e4 24.0%,#4743e7 57.9%,#484ff2 64.4%,#4465fd 69.9%,#3975fe 72.6%,#2e84f8 74.2%,#2b92ee 75.3%,#1aabdd 77.0%,#0ab4d2 77.5%,#02bbc3 78.1%,#1dc0b3 78.6%,#2fc5a3 79.1%,#3bc992 79.7%,#5ccc76 80.8%,#65cd6e 81.3%,#67cd6c 81.9%,#5ecd74 82.4%,#4bcb84 83.0%,#24c1ae 84.1%,#02bac4 84.6%,#14b0d8 85.2%,#22a2e4 85.7%,#2e84f8 86.8%,#3776fe 87.3%,#426afe 87.9%,#4759f8 89.0%,#484ff2 90.1%,#4849ed 92.2%,#463ada 94.4%,#4537d5 96.1%,#473fe2 100.0%)"></i><i style="left:106.0px;width:2.5px;background:linear-gradient(#4745e9 0.0%,#4740e4 30.6%,#4742e6 57.9%,#4850f3 65.5%,#4466fd 70.4%,#3a74fe 72.6%,#2e83f9 74.2%,#2b91ef 75.3%,#22a2e4 76.4%,#1aabde 77.0%,#0ab4d2 77.5%,#03bbc3 78.1%,#1ec0b2 78.6%,#3fca8e 79.7%,#65cd6e 80.8%,#71cd64 81.3%,#75cc61 81.9%,#6ecd67 82.4%,#5bcc77 83.0%,#41ca8d 83.5%,#2ec4a4 84.1%,#0dbdbb 84.6%,#0ab4d1 85.2%,#1ea6e1 85.7%,#2d88f6 86.8%,#347afd 87.3%,#406cfe 87.9%,#475af9 89.0%,#484ff2 90.1%,#4848ec 92.2%,#4538d8 94.4%,#4535d2 96.1%,#463de0 100.0%)"></i><i style="left:108.0px;width:2.5px;background:linear-gradient(#4746ea 0.0%,#4740e4 27.3%,#4740e4 57.9%,#484df1 66.0%,#4367fd 71.0%,#3777fe 73.1%,#2d88f6 74.8%,#2798ea 75.9%,#1baade 77.0%,#0bb3d2 77.5%,#02bbc3 78.1%,#1fc1b1 78.6%,#42ca8b 79.7%,#6ecd66 80.8%,#7dcc5b 81.3%,#83cc57 81.9%,#7ecc5b 82.4%,#6bcd69 83.0%,#35c79a 84.1%,#01b8ca 85.2%,#1babde 85.7%,#2d8cf3 86.8%,#317dfc 87.3%,#3f6eff 87.9%,#475af9 89.0%,#484ff2 90.1%,#4746eb 92.2%,#4537d6 94.4%,#4434cf 95.5%,#4537d5 97.7%,#463cde 100.0%)"></i><i style="left:110.0px;width:2.5px;background:linear-gradient(#4742e6 0.0%,#463de0 26.2%,#473ee1 58.4%,#4747eb 66.6%,#475cfa 69.9%,#3e70ff 72.6%,#2e86f7 74.8%,#23a0e5 76.4%,#1ca9df 77.0%,#02bac3 78.1%,#1fc1b1 78.6%,#45cb89 79.7%,#77cc60 80.8%,#88cb53 81.3%,#90ca4d 81.9%,#8ecb4f 82.4%,#7dcc5b 83.0%,#60cd72 83.5%,#3fca8e 84.1%,#29c3a9 84.6%,#03bbc2 85.2%,#15afd9 85.7%,#23a0e5 86.2%,#2c90f0 86.8%,#3080fa 87.3%,#3d71ff 87.9%,#475bf9 89.0%,#484ef1 90.1%,#4745e9 92.2%,#4435d2 94.4%,#4433cb 95.5%,#4435d1 97.7%,#463ada 100.0%)"></i><i style="left:112.0px;width:2.5px;background:linear-gradient(#463cdf 0.0%,#4539d9 20.2%,#463adb 56.8%,#463ee1 63.3%,#463cde 66.0%,#4742e6 67.7%,#475bf9 70.4%,#406cfe 72.6%,#317dfc 74.2%,#2994ed 75.9%,#1da8e0 77.0%,#10b2d5 77.5%,#02bac5 78.1%,#1fc0b2 78.6%,#47cb87 79.7%,#7fcc5a 80.8%,#92ca4b 81.3%,#9cc944 81.9%,#9cc944 82.4%,#8fcb4e 83.0%,#72cd63 83.5%,#4ecc81 84.1%,#10beba 85.2%,#0cb3d3 85.7%,#20a4e3 86.2%,#2a93ed 86.8%,#2e83f9 87.3%,#3a73fe 87.9%,#4465fd 88.4%,#484df1 90.1%,#4743e7 92.2%,#4536d3 93.9%,#4331c7 95.5%,#4332ca 97.2%,#4538d7 100.0%)"></i><i style="left:114.0px;width:2.5px;background:linear-gradient(#4538d7 0.0%,#4435d1 19.7%,#4536d4 54.6%,#463adb 62.8%,#4434ce 65.5%,#4434cf 66.6%,#4639d9 67.7%,#4850f2 69.9%,#4564fd 72.1%,#3b73fe 73.7%,#2f81fa 74.8%,#2b92ee 75.9%,#1fa6e1 77.0%,#12b1d7 77.5%,#01b9c6 78.1%,#1dc0b3 78.6%,#49cb85 79.7%,#86cb54 80.8%,#9cc944 81.3%,#a8c73b 81.9%,#aac73a 82.4%,#9fc941 83.0%,#86cb55 83.5%,#60cd73 84.1%,#3ac994 84.6%,#03b7cc 85.7%,#1da8e0 86.2%,#2e86f7 87.3%,#3876fe 87.9%,#4367fd 88.4%,#4853f5 89.5%,#4747eb 91.2%,#4741e5 92.2%,#4434cf 93.9%,#422fc2 95.5%,#4332c8 97.7%,#4536d3 100.0%)"></i><i style="left:116.0px;width:2.5px;background:linear-gradient(#4536d3 0.0%,#4433cb 19.7%,#4434cf 55.7%,#4538d7 61.7%,#4434cf 63.9%,#422fc3 66.0%,#4332c8 67.1%,#473ee1 68.8%,#4850f3 70.4%,#4466fd 73.1%,#3c72ff 74.2%,#2e83f9 75.3%,#2d8df2 75.9%,#21a3e4 77.0%,#17aedb 77.5%,#02b7cb 78.1%,#15bfb7 78.6%,#2fc5a2 79.1%,#44ca8a 79.7%,#82cc57 80.8%,#9ac945 81.3%,#a8c73b 81.9%,#adc638 82.4%,#a5c83d 83.0%,#8ecb4f 83.5%,#69cd6b 84.1%,#40ca8d 84.6%,#27c2ac 85.2%,#01b9c7 85.7%,#1aabdd 86.2%,#269ae8 86.8%,#2d89f6 87.3%,#3677fe 87.9%,#4368fe 88.4%,#4853f5 89.5%,#4848ec 90.6%,#473fe3 92.2%,#4330c5 94.4%,#412dbd 96.1%,#4434cf 100.0%)"></i><i style="left:118.0px;width:2.5px;background:linear-gradient(#4435d0 0.0%,#4331c8 19.7%,#4332ca 54.6%,#4536d3 62.2%,#4332ca 64.4%,#4230c3 66.0%,#4332c9 67.1%,#4743e7 69.3%,#4850f2 71.0%,#465ffb 73.7%,#3e6fff 74.8%,#2e86f8 75.9%,#249ee6 77.0%,#1baade 77.5%,#07b5cf 78.1%,#0cbdbc 78.6%,#2cc4a7 79.1%,#3eca8f 79.7%,#7ecc5a 80.8%,#98c947 81.3%,#a9c73b 81.9%,#afc637 82.4%,#aac73a 83.0%,#96ca49 83.5%,#73cd63 84.1%,#49cb85 84.6%,#2dc4a6 85.2%,#04bbc2 85.7%,#17aeda 86.2%,#259de7 86.8%,#347afd 87.9%,#4269fe 88.4%,#4853f5 89.5%,#4747eb 90.6%,#463ee1 92.2%,#4331c8 93.9%,#412cba 95.5%,#422fc0 97.7%,#4433cb 100.0%)"></i><i style="left:120.0px;width:2.5px;background:linear-gradient(#4434cd 0.0%,#4330c5 21.8%,#4332c8 55.7%,#4435d2 62.8%,#4433cd 66.0%,#463cdf 68.2%,#4849ed 70.4%,#484cf0 73.1%,#4561fc 74.8%,#3f6efe 75.3%,#317dfc 75.9%,#2699e9 77.0%,#1ea7e1 77.5%,#0eb3d4 78.1%,#06bcc0 78.6%,#28c2ab 79.1%,#3bc993 79.7%,#7acc5d 80.8%,#96ca48 81.3%,#a9c73b 81.9%,#b1c635 82.4%,#afc637 83.0%,#9ec942 83.5%,#7ecc5b 84.1%,#53cc7d 84.6%,#32c69f 85.2%,#0cbdbc 85.7%,#12b1d6 86.2%,#23a0e5 86.8%,#327dfc 87.9%,#416bfe 88.4%,#4854f5 89.5%,#4747eb 90.6%,#463de0 92.2%,#4330c5 93.9%,#412cba 95.0%,#402bb8 96.6%,#4332c8 100.0%)"></i><i style="left:122.0px;width:2.5px;background:linear-gradient(#4433cb 0.0%,#4230c3 20.7%,#4331c6 55.7%,#4538d8 66.0%,#4746ea 69.3%,#4745ea 71.0%,#4740e3 72.6%,#4745e9 73.7%,#4757f7 74.8%,#4465fd 75.3%,#3975fe 75.9%,#2e85f8 76.4%,#21a3e3 77.5%,#13b0d7 78.1%,#02bac4 78.6%,#24c1af 79.1%,#37c897 79.7%,#77cc60 80.8%,#95ca49 81.3%,#a9c73a 81.9%,#b4c534 82.4%,#b4c533 83.0%,#a6c83d 83.5%,#89cb53 84.1%,#5ecd74 84.6%,#37c897 85.2%,#19bfb5 85.7%,#09b4d1 86.2%,#20a4e3 86.8%,#2b92ee 87.3%,#3080fa 87.9%,#3f6eff 88.4%,#4660fb 89.0%,#484df0 90.1%,#463ddf 92.2%,#4230c4 93.9%,#412cb9 95.0%,#402bb6 96.6%,#4331c7 100.0%)"></i><i style="left:124.0px;width:2.5px;background:linear-gradient(#4332ca 0.0%,#422fc2 19.7%,#4330c5 55.1%,#4536d2 62.2%,#473fe2 66.6%,#4849ed 69.3%,#4743e7 71.5%,#473fe3 72.6%,#4744e8 73.7%,#4756f7 74.8%,#4563fd 75.3%,#3b73fe 75.9%,#2e83f9 76.4%,#22a1e4 77.5%,#16aeda 78.1%,#01b9c7 78.6%,#1fc0b2 79.1%,#35c79a 79.7%,#51cc7f 80.2%,#73cd62 80.8%,#93ca4a 81.3%,#aac73a 81.9%,#b6c532 82.4%,#b9c431 83.0%,#aec637 83.5%,#94ca4a 84.1%,#6acd6a 84.6%,#3fca8e 85.2%,#24c1ae 85.7%,#02b7cb 86.2%,#1da8e0 86.8%,#2896eb 87.3%,#2e84f9 87.9%,#3c72ff 88.4%,#4562fc 89.0%,#484ef1 90.1%,#463de0 92.2%,#4230c4 93.9%,#402ab5 95.5%,#402bb8 97.2%,#4331c6 100.0%)"></i><i style="left:126.0px;width:2.5px;background:linear-gradient(#4433cb 0.0%,#4230c3 20.7%,#4331c6 55.7%,#4435d1 61.7%,#473fe3 66.0%,#484cf0 69.9%,#4848ec 72.6%,#4854f5 74.2%,#4368fe 75.3%,#3876fe 75.9%,#2e84f8 76.4%,#23a0e5 77.5%,#19addc 78.1%,#02b7cb 78.6%,#17bfb6 79.1%,#4acb84 80.2%,#6dcd67 80.8%,#90ca4d 81.3%,#a9c73b 81.9%,#b8c431 82.4%,#bdc32e 83.0%,#b7c532 83.5%,#a1c840 84.1%,#7bcc5d 84.6%,#4ecc81 85.2%,#2ec4a4 85.7%,#04bbc2 86.2%,#18aedb 86.8%,#259ce7 87.3%,#2d8af5 87.9%,#3677fe 88.4%,#4367fd 89.0%,#4851f3 90.1%,#463ee1 92.2%,#4330c4 93.9%,#402bb6 95.5%,#402bb8 97.2%,#4331c6 100.0%)"></i><i style="left:128.0px;width:2.5px;background:linear-gradient(#4434cd 0.0%,#4330c5 21.8%,#4331c7 55.1%,#4434cf 60.6%,#473fe2 65.5%,#4850f2 69.9%,#4756f7 73.1%,#4366fd 74.8%,#3e70ff 75.3%,#337bfd 75.9%,#249ee6 77.5%,#1baade 78.1%,#06b5cf 78.6%,#0ebdbb 79.1%,#2dc4a5 79.7%,#42ca8b 80.2%,#65cd6e 80.8%,#88cb53 81.3%,#a4c83e 81.9%,#b6c532 82.4%,#bec32e 83.0%,#bcc42f 83.5%,#aac73a 84.1%,#89cb52 84.6%,#5ccc76 85.2%,#35c79a 85.7%,#12beb9 86.2%,#0eb2d4 86.8%,#22a1e4 87.3%,#2c8ff0 87.9%,#317dfc 88.4%,#416cfe 89.0%,#4854f5 90.1%,#473fe3 92.2%,#4331c6 93.9%,#412cba 95.0%,#402bb7 96.6%,#4331c7 100.0%)"></i><i style="left:130.0px;width:2.5px;background:linear-gradient(#4434d0 0.0%,#4331c8 19.7%,#4332ca 56.2%,#4536d4 61.7%,#4744e8 66.6%,#4756f7 71.0%,#4562fc 73.7%,#406dfe 74.8%,#317efb 75.9%,#2d87f7 76.4%,#259de7 77.5%,#1da8e0 78.1%,#0cb3d3 78.6%,#07bcc0 79.1%,#28c3aa 79.7%,#3cc992 80.2%,#81cc58 81.3%,#a0c941 81.9%,#b4c533 82.4%,#bfc32d 83.0%,#c0c32d 83.5%,#b3c534 84.1%,#96ca48 84.6%,#6bcd69 85.2%,#3eca8f 85.7%,#22c1b0 86.2%,#03b7cc 86.8%,#1ea7e1 87.3%,#2e83f9 88.4%,#3c71ff 89.0%,#4563fc 89.5%,#4851f3 90.6%,#4741e5 92.2%,#422fc2 94.4%,#412cb8 96.1%,#422fc2 98.3%,#4332c9 100.0%)"></i><i style="left:132.0px;width:2.5px;background:linear-gradient(#4535d2 0.0%,#4332ca 21.8%,#4433cd 56.8%,#4538d8 62.2%,#4745e9 66.6%,#4758f8 71.0%,#416bfe 74.2%,#307ffb 75.9%,#2b91ef 77.0%,#1fa6e2 78.1%,#12b1d6 78.6%,#02bac4 79.1%,#23c1af 79.7%,#37c898 80.2%,#55cc7b 80.8%,#7acc5e 81.3%,#9ac945 81.9%,#b2c635 82.4%,#bfc32d 83.0%,#c3c22b 83.5%,#bac430 84.1%,#a2c83f 84.6%,#7bcc5d 85.2%,#4ccb83 85.7%,#2dc4a6 86.2%,#02bbc3 86.8%,#19addc 87.3%,#2d89f5 88.4%,#3678fe 89.0%,#4368fe 89.5%,#4854f6 90.6%,#4744e8 92.2%,#4433cd 93.9%,#422fc0 95.0%,#412dbc 96.6%,#4433cc 100.0%)"></i><i style="left:134.0px;width:2.5px;background:linear-gradient(#4537d5 0.0%,#4433cd 20.7%,#4434cf 55.7%,#463ada 62.2%,#4849ed 67.1%,#4562fc 72.6%,#406dfe 74.2%,#307ffb 75.9%,#2c8ff0 77.0%,#20a4e3 78.1%,#15afd9 78.6%,#01b8c8 79.1%,#33c79d 80.2%,#4ecc81 80.8%,#95ca49 81.9%,#afc637 82.4%,#bfc32d 83.0%,#c5c22a 83.5%,#c1c32d 84.1%,#adc638 84.6%,#8acb51 85.2%,#5ccc76 85.7%,#35c79b 86.2%,#11beb9 86.8%,#0eb2d4 87.3%,#22a2e4 87.9%,#2c90f0 88.4%,#307efb 89.0%,#3f6efe 89.5%,#4561fc 90.1%,#4747eb 92.2%,#4435d1 93.9%,#422fc1 95.5%,#422fc2 97.2%,#4434ce 99.3%,#4434d0 100.0%)"></i><i style="left:136.0px;width:2.5px;background:linear-gradient(#4538d8 0.0%,#4435d0 20.7%,#4536d3 56.2%,#463cdf 62.8%,#4854f6 69.3%,#426afe 73.7%,#3678fd 75.3%,#2e86f7 76.4%,#2798ea 77.5%,#18addb 78.6%,#03b7cb 79.1%,#15bfb8 79.7%,#47cb87 80.8%,#6bcd69 81.3%,#90ca4d 81.9%,#acc739 82.4%,#bec32e 83.0%,#c7c12a 83.5%,#c6c22a 84.1%,#b7c532 84.6%,#99c946 85.2%,#6dcd68 85.7%,#3fca8e 86.2%,#23c1af 86.8%,#02b7cb 87.3%,#1da8e0 87.9%,#2e85f8 89.0%,#3975fe 89.5%,#4367fd 90.1%,#4851f4 91.7%,#463cdf 93.3%,#4332ca 95.0%,#4330c5 96.6%,#4536d4 100.0%)"></i><i style="left:138.0px;width:2.5px;background:linear-gradient(#463ada 0.0%,#4536d4 22.9%,#4538d8 56.8%,#473fe2 62.8%,#4759f8 69.9%,#416cfe 73.7%,#307ffb 75.9%,#2797ea 77.5%,#1aacdd 78.6%,#05b6ce 79.1%,#0ebdbb 79.7%,#2dc4a6 80.2%,#41ca8c 80.8%,#65cd6e 81.3%,#8acb51 81.9%,#a9c73b 82.4%,#bdc32e 83.0%,#c9c129 83.5%,#cbc129 84.1%,#c0c32d 84.6%,#a7c73c 85.2%,#7fcc5a 85.7%,#4fcc81 86.2%,#2ec5a4 86.8%,#05bbc1 87.3%,#16aeda 87.9%,#249ee6 88.4%,#327cfc 89.5%,#3f6efe 90.1%,#475cfa 91.2%,#4747eb 92.8%,#4537d6 94.4%,#4433cb 96.1%,#4536d3 98.3%,#4539d9 100.0%)"></i><i style="left:140.0px;width:2.5px;background:linear-gradient(#463cdf 0.0%,#4639d9 21.3%,#463cde 57.3%,#4745e9 63.9%,#465ffb 70.4%,#3f6eff 73.7%,#2f81fa 75.9%,#2c8ef1 77.0%,#23a1e5 78.1%,#1babde 78.6%,#08b4d0 79.1%,#09bcbe 79.7%,#29c3a9 80.2%,#3dc991 80.8%,#5ecd74 81.3%,#84cc56 81.9%,#a4c83e 82.4%,#bbc42f 83.0%,#c9c129 83.5%,#cec028 84.1%,#c7c12a 84.6%,#b3c534 85.2%,#8fcb4e 85.7%,#60cd73 86.2%,#36c898 86.8%,#16bfb7 87.3%,#0ab4d1 87.9%,#20a4e3 88.4%,#2e84f9 89.5%,#3975fe 90.1%,#426afe 90.6%,#4854f5 92.2%,#473fe2 93.9%,#4536d4 95.5%,#4536d4 97.2%,#463cde 100.0%)"></i><i style="left:142.0px;width:2.5px;background:linear-gradient(#4742e6 0.0%,#473ee1 23.5%,#4741e5 58.4%,#484df0 65.0%,#4465fd 71.0%,#3875fe 74.2%,#2d88f6 76.4%,#2797eb 77.5%,#1caadf 78.6%,#0bb3d2 79.1%,#05bbc1 79.7%,#26c2ad 80.2%,#38c896 80.8%,#58cc7a 81.3%,#9fc942 82.4%,#b8c431 83.0%,#c8c129 83.5%,#cfc028 84.1%,#ccc028 84.6%,#bcc42f 85.2%,#9dc943 85.7%,#70cd65 86.2%,#42ca8b 86.8%,#26c2ac 87.3%,#01b9c8 87.9%,#1babde 88.4%,#2d8bf4 89.5%,#317dfc 90.1%,#3d71ff 90.6%,#4661fc 91.7%,#4743e7 93.9%,#463ada 95.5%,#463bdc 97.7%,#473fe3 100.0%)"></i><i style="left:144.0px;width:2.5px;background:linear-gradient(#484aee 0.0%,#4746ea 25.1%,#4747ec 59.0%,#4854f5 65.5%,#4269fe 71.0%,#3579fd 74.2%,#2d8af5 76.4%,#2798ea 77.5%,#1ca9df 78.6%,#0eb3d4 79.1%,#02bac3 79.7%,#21c1b0 80.2%,#35c79a 80.8%,#51cc7f 81.3%,#99c946 82.4%,#b4c533 83.0%,#c6c22a 83.5%,#cfc028 84.1%,#d0c028 84.6%,#c4c22b 85.2%,#aac73a 85.7%,#81cc58 86.2%,#52cc7e 86.8%,#30c5a1 87.3%,#09bcbe 87.9%,#12b1d6 88.4%,#22a2e4 89.0%,#2b92ee 89.5%,#2e84f8 90.1%,#3f6eff 91.2%,#4755f6 92.8%,#4743e7 94.4%,#463cdf 96.1%,#4743e7 100.0%)"></i><i style="left:146.0px;width:2.5px;background:linear-gradient(#4852f4 0.0%,#484df0 25.1%,#484df0 59.5%,#475af9 66.0%,#3d70ff 71.5%,#2e84f9 75.3%,#2a93ee 77.0%,#1babde 78.6%,#0ab4d1 79.1%,#05bbc1 79.7%,#25c2ad 80.2%,#37c897 80.8%,#54cc7c 81.3%,#9cc944 82.4%,#b6c532 83.0%,#c8c129 83.5%,#d1bf27 84.1%,#d1bf27 84.6%,#c5c22a 85.2%,#acc738 85.7%,#84cc56 86.2%,#55cc7c 86.8%,#32c69f 87.3%,#0dbdbc 87.9%,#0fb2d4 88.4%,#21a3e3 89.0%,#2e87f7 90.1%,#327bfc 90.6%,#426afe 91.7%,#4851f3 93.3%,#4743e7 95.0%,#473fe3 96.6%,#4746ea 100.0%)"></i><i style="left:148.0px;width:2.5px;background:linear-gradient(#4757f7 0.0%,#4852f4 33.8%,#484ef1 57.3%,#4759f8 64.4%,#416bfe 69.3%,#3080fb 74.2%,#2d8df2 76.4%,#22a2e4 78.1%,#1aabdd 78.6%,#08b4d0 79.1%,#07bcbf 79.7%,#27c2ac 80.2%,#39c895 80.8%,#57cc7a 81.3%,#9dc943 82.4%,#b8c531 83.0%,#c9c129 83.5%,#d2bf27 84.1%,#d2bf27 84.6%,#c6c22a 85.2%,#adc638 85.7%,#86cb55 86.2%,#57cc7a 86.8%,#33c69e 87.3%,#10beba 87.9%,#0cb3d3 88.4%,#20a5e2 89.0%,#2d88f6 90.1%,#317dfc 90.6%,#406cfe 91.7%,#475bf9 92.8%,#4848ec 94.4%,#4741e5 96.1%,#4848ec 100.0%)"></i><i style="left:150.0px;width:2.5px;background:linear-gradient(#475af9 0.0%,#4854f5 37.1%,#4850f2 52.4%,#484cf0 56.2%,#465efb 65.5%,#3d71ff 70.4%,#2e83f9 74.8%,#2c8ef1 77.0%,#249ee6 78.1%,#1ca9e0 78.6%,#0bb4d2 79.1%,#07bcc0 79.7%,#27c2ac 80.2%,#39c895 80.8%,#57cc7a 81.3%,#9dc943 82.4%,#b7c531 83.0%,#c9c129 83.5%,#d1bf27 84.1%,#d1bf27 84.6%,#c6c22a 85.2%,#adc638 85.7%,#86cb55 86.2%,#57cc7a 86.8%,#33c69d 87.3%,#10beba 87.9%,#0bb3d2 88.4%,#1fa5e2 89.0%,#2d89f5 90.1%,#3975fe 91.2%,#4464fd 92.2%,#484ef1 93.9%,#4742e6 96.1%,#4849ed 100.0%)"></i><i style="left:152.0px;width:2.5px;background:linear-gradient(#4759f8 0.0%,#4853f5 32.8%,#484ff2 51.3%,#4848ec 56.2%,#465dfa 65.5%,#3c72ff 71.0%,#2f81fa 74.8%,#2f81fa 77.0%,#2d87f7 77.5%,#2a93ed 78.1%,#22a2e4 78.6%,#13b0d7 79.1%,#02bbc3 79.7%,#25c2ae 80.2%,#38c897 80.8%,#55cc7b 81.3%,#9bc944 82.4%,#b6c533 83.0%,#c7c12a 83.5%,#d0c027 84.1%,#d0bf27 84.6%,#c4c22a 85.2%,#abc739 85.7%,#84cc56 86.2%,#55cc7c 86.8%,#32c69e 87.3%,#0fbebb 87.9%,#0db3d3 88.4%,#20a5e3 89.0%,#2d88f6 90.1%,#3974fe 91.2%,#4563fd 92.2%,#484df0 93.9%,#4743e7 95.5%,#4742e6 97.2%,#4848ec 100.0%)"></i><i style="left:154.0px;width:2.5px;background:linear-gradient(#4854f5 0.0%,#484ff2 27.3%,#484bef 50.8%,#4742e6 56.2%,#465ffb 67.1%,#3d71ff 71.5%,#317dfc 74.8%,#3974fe 75.9%,#4368fe 77.0%,#3f6dfe 77.5%,#307ffb 78.1%,#1ca9df 79.1%,#01b8ca 79.7%,#1dc0b3 80.2%,#4fcc81 81.3%,#94ca4a 82.4%,#afc637 83.0%,#c1c32c 83.5%,#cac129 84.1%,#cac129 84.6%,#bec32e 85.2%,#a4c83e 85.7%,#7dcc5c 86.2%,#4fcc80 86.8%,#2fc5a2 87.3%,#09bcbe 87.9%,#11b1d6 88.4%,#21a3e4 89.0%,#2e86f7 90.1%,#3c71ff 91.2%,#4561fc 92.2%,#484bee 93.9%,#473fe3 96.1%,#4746ea 100.0%)"></i><i style="left:156.0px;width:2.5px;background:linear-gradient(#484cef 0.0%,#4747ec 31.1%,#4745e9 51.3%,#473ee2 56.2%,#475af9 67.1%,#3d70ff 72.6%,#3777fe 74.2%,#3876fe 74.8%,#3e70ff 75.3%,#4564fd 75.9%,#484aee 77.0%,#484df1 77.5%,#4561fc 78.1%,#2f82f9 78.6%,#249fe5 79.1%,#0bb3d2 79.7%,#12beb9 80.2%,#30c5a1 80.8%,#47cb87 81.3%,#8ccb50 82.4%,#a7c73c 83.0%,#b9c430 83.5%,#c3c22b 84.1%,#c3c22b 84.6%,#b7c532 85.2%,#9cc944 85.7%,#74cc62 86.2%,#48cb86 86.8%,#2cc4a7 87.3%,#04bbc2 87.9%,#15afd9 88.4%,#23a0e5 89.0%,#2b90ef 89.5%,#2e83f9 90.1%,#3777fe 90.6%,#4466fd 91.7%,#484df1 93.3%,#463de0 95.5%,#473ee2 97.7%,#4743e7 100.0%)"></i><i style="left:158.0px;width:2.5px;background:linear-gradient(#4743e7 0.0%,#4740e3 28.4%,#473fe2 51.9%,#463cde 56.8%,#484df0 65.0%,#4564fd 71.0%,#3d70ff 74.2%,#3f6eff 74.8%,#4465fd 75.3%,#4755f6 75.9%,#473fe2 76.4%,#4331c8 77.0%,#4433cc 77.5%,#4848ec 78.1%,#3f6eff 78.6%,#2895ec 79.1%,#16afda 79.7%,#07bcbf 80.2%,#2cc4a7 80.8%,#3fca8e 81.3%,#82cc58 82.4%,#9ec942 83.0%,#b1c635 83.5%,#bbc430 84.1%,#bbc430 84.6%,#aec637 85.2%,#93ca4b 85.7%,#6bcd69 86.2%,#40ca8d 86.8%,#27c2ac 87.3%,#01b9c7 87.9%,#19acdc 88.4%,#2d8df2 89.5%,#307ffb 90.1%,#4269fe 91.2%,#475af9 92.2%,#4743e7 93.9%,#463ada 95.5%,#463bdc 97.7%,#473fe3 100.0%)"></i><i style="left:160.0px;width:2.5px;background:linear-gradient(#463cdf 0.0%,#4639d9 22.9%,#463adb 57.9%,#4747ec 65.0%,#4563fd 72.1%,#416bfe 74.2%,#4368fe 74.8%,#465efb 75.3%,#484cef 75.9%,#4435d0 76.4%,#3e28ac 77.0%,#3f28af 77.5%,#463cde 78.1%,#4564fd 78.6%,#2c8ef1 79.1%,#1baade 79.7%,#02bac5 80.2%,#26c2ac 80.8%,#39c994 81.3%,#78cc5f 82.4%,#94ca4a 83.0%,#a8c73b 83.5%,#b2c635 84.1%,#b2c535 84.6%,#a5c83d 85.2%,#89cb52 85.7%,#61cd71 86.2%,#3ac993 86.8%,#02b7cb 87.9%,#1ca9df 88.4%,#347afd 90.1%,#3f6efe 90.6%,#465dfb 91.7%,#473fe2 93.9%,#4536d4 95.5%,#4536d3 97.2%,#463bde 100.0%)"></i><i style="left:162.0px;width:2.5px;background:linear-gradient(#4538d7 0.0%,#4435d0 21.8%,#4537d5 57.3%,#473ee1 63.3%,#475cfa 71.5%,#4466fd 74.2%,#4464fd 74.8%,#475cfa 75.3%,#484bef 75.9%,#4537d5 76.4%,#402bb6 77.0%,#412cba 77.5%,#4740e3 78.1%,#4465fd 78.6%,#2d8df2 79.1%,#1da8e0 79.7%,#01b8c9 80.2%,#20c1b1 80.8%,#35c79a 81.3%,#4fcc81 81.9%,#8bcb51 83.0%,#9fc942 83.5%,#a9c73a 84.1%,#aac73a 84.6%,#9cc944 85.2%,#80cc59 85.7%,#59cc78 86.2%,#36c799 86.8%,#19bfb6 87.3%,#07b5cf 87.9%,#1fa6e2 88.4%,#2e85f8 89.5%,#3876fe 90.1%,#4269fe 90.6%,#4851f3 92.2%,#463bdd 93.9%,#4433cc 95.5%,#4332cb 96.6%,#4538d8 100.0%)"></i><i style="left:164.0px;width:2.5px;background:linear-gradient(#4535d2 0.0%,#4332cb 19.1%,#4434ce 56.2%,#463ada 62.8%,#4849ed 67.7%,#4561fc 73.7%,#4562fc 74.8%,#475cfa 75.3%,#4851f3 75.9%,#4742e6 76.4%,#4538d8 77.0%,#463bde 77.5%,#4850f2 78.1%,#3e6fff 78.6%,#2c90f0 79.1%,#1ea7e1 79.7%,#05b6cd 80.2%,#15bfb8 80.8%,#2fc5a2 81.3%,#43ca8b 81.9%,#7bcc5d 83.0%,#8fcb4e 83.5%,#9ac945 84.1%,#9ac945 84.6%,#8dcb50 85.2%,#70cd65 85.7%,#4ccb83 86.2%,#30c5a1 86.8%,#0cbdbc 87.3%,#10b2d5 87.9%,#22a2e4 88.4%,#2b91ef 89.0%,#2f81fa 89.5%,#3c71ff 90.1%,#4465fd 90.6%,#484ef1 92.2%,#463de0 93.3%,#4332ca 95.0%,#4230c4 96.6%,#4535d2 100.0%)"></i><i style="left:166.0px;width:2.5px;background:linear-gradient(#4434cf 0.0%,#4331c7 18.6%,#4332c9 55.1%,#4435d1 61.1%,#4742e6 66.6%,#4758f8 72.1%,#4562fc 74.8%,#475cfa 75.9%,#4851f4 77.0%,#4757f7 77.5%,#4368fe 78.1%,#2f82fa 78.6%,#2699e9 79.1%,#1aabdd 79.7%,#01b8ca 80.2%,#31c5a1 81.3%,#43ca8a 81.9%,#75cc61 83.0%,#86cb55 83.5%,#8ccb50 84.1%,#87cb54 84.6%,#73cd62 85.2%,#36c898 86.2%,#03b7cc 87.3%,#1da9e0 87.9%,#2e87f7 89.0%,#3876fe 89.5%,#4368fd 90.1%,#4756f7 91.2%,#4740e4 92.8%,#4332c9 94.4%,#422ebf 95.5%,#422fc0 97.2%,#4433cd 100.0%)"></i><i style="left:168.0px;width:2.5px;background:linear-gradient(#4433cc 0.0%,#4230c4 19.1%,#4331c7 56.8%,#4535d2 62.2%,#4745e9 67.7%,#465efb 73.7%,#4465fd 75.9%,#4367fd 77.0%,#3f6fff 77.5%,#317efb 78.1%,#23a1e5 79.1%,#15afd9 79.7%,#01b9c6 80.2%,#1dc0b3 80.8%,#43ca8a 81.9%,#6fcd66 83.0%,#7bcc5d 83.5%,#7ecc5b 84.1%,#72cd63 84.6%,#5bcc76 85.2%,#3eca8f 85.7%,#29c3a9 86.2%,#03bbc2 86.8%,#16afd9 87.3%,#249fe6 87.9%,#317dfc 89.0%,#406cfe 89.5%,#4660fb 90.1%,#484bef 91.7%,#4537d6 93.3%,#4230c4 94.4%,#412dbb 95.5%,#412dbc 97.2%,#4332ca 100.0%)"></i><i style="left:170.0px;width:2.5px;background:linear-gradient(#4332ca 0.0%,#422fc2 20.7%,#4330c5 55.7%,#4435d1 62.2%,#4741e5 67.1%,#475cfa 73.1%,#3e70ff 76.4%,#307ffb 77.5%,#2699e9 78.6%,#1fa6e1 79.1%,#0fb2d5 79.7%,#02bbc3 80.2%,#21c1b0 80.8%,#43ca8a 81.9%,#58cc79 82.4%,#67cd6c 83.0%,#6fcd66 83.5%,#6dcd67 84.1%,#5ecd74 84.6%,#30c5a1 85.7%,#12beb9 86.2%,#08b4d0 86.8%,#1fa6e2 87.3%,#2e84f8 88.4%,#3a73fe 89.0%,#4464fd 89.5%,#4852f4 90.6%,#4741e5 92.2%,#4332c9 93.9%,#412dbc 95.0%,#402bb7 96.1%,#4331c8 100.0%)"></i><i style="left:172.0px;width:2.5px;background:linear-gradient(#4332cb 0.0%,#4230c3 18.6%,#4330c5 55.7%,#4535d2 62.8%,#4740e3 67.1%,#4854f5 71.5%,#4466fd 74.8%,#3776fe 76.4%,#2d88f6 77.5%,#249ee6 78.6%,#1baade 79.1%,#08b4d1 79.7%,#07bcc0 80.2%,#24c2ae 80.8%,#54cc7c 82.4%,#60cd72 83.0%,#63cd6f 83.5%,#5dcc75 84.1%,#4acb84 84.6%,#22c1b0 85.7%,#01b9c7 86.2%,#19addc 86.8%,#2d8cf3 87.9%,#327cfc 88.4%,#416bfe 89.0%,#4854f6 90.1%,#4740e3 92.2%,#4331c7 93.9%,#402bb8 95.5%,#402bb7 96.6%,#4331c7 100.0%)"></i><i style="left:174.0px;width:2.5px;background:linear-gradient(#4433cc 0.0%,#4230c4 21.8%,#4331c7 56.2%,#4639d9 66.0%,#4745e9 68.8%,#4757f8 72.1%,#4368fe 74.8%,#3a74fe 75.9%,#2e84f8 77.0%,#2698ea 78.1%,#21a3e3 78.6%,#17aeda 79.1%,#03b7cb 79.7%,#0fbebb 80.2%,#29c3aa 80.8%,#45cb89 81.9%,#54cc7d 82.4%,#5ccc76 83.0%,#5ccc75 83.5%,#51cc7f 84.1%,#2dc4a5 85.2%,#0dbdbb 85.7%,#0ab4d1 86.2%,#1fa6e2 86.8%,#2e85f8 87.9%,#3a74fe 88.4%,#4465fd 89.0%,#4851f3 90.1%,#473fe2 92.2%,#4331c7 93.9%,#402cb8 95.5%,#412cba 97.2%,#4332c8 100.0%)"></i><i style="left:176.0px;width:2.5px;background:linear-gradient(#4434ce 0.0%,#4331c6 21.8%,#4332c9 55.7%,#4435d2 63.9%,#4435d1 66.0%,#463ee0 68.2%,#4852f4 71.0%,#416bfe 74.8%,#3678fd 75.9%,#2f80fa 76.4%,#259de7 78.1%,#1ea8e1 78.6%,#01b9c6 79.7%,#2dc4a5 80.8%,#47cb87 81.9%,#53cc7d 82.4%,#58cc79 83.0%,#54cc7c 83.5%,#45cb89 84.1%,#21c1b0 85.2%,#01b9c6 85.7%,#17aeda 86.2%,#249fe5 86.8%,#317efb 87.9%,#3f6efe 88.4%,#4660fc 89.0%,#484ef1 90.1%,#473fe2 92.2%,#422fc1 94.4%,#412cb9 96.1%,#4230c3 98.3%,#4332ca 100.0%)"></i><i style="left:178.0px;width:2.5px;background:linear-gradient(#4435d1 0.0%,#4332c9 20.7%,#4434ce 56.8%,#4536d4 62.2%,#4331c7 66.0%,#4536d3 67.7%,#4849ed 69.9%,#475bf9 72.1%,#426afe 74.2%,#327cfc 75.9%,#22a1e4 78.1%,#1aacdd 78.6%,#08b5d0 79.1%,#06bcc1 79.7%,#21c1b0 80.2%,#48cb86 81.9%,#51cc7f 82.4%,#53cc7d 83.0%,#4acb84 83.5%,#2dc4a6 84.6%,#0fbeba 85.2%,#07b5d0 85.7%,#1da8e0 86.2%,#2d88f6 87.3%,#3678fd 87.9%,#4269fe 88.4%,#4854f5 89.5%,#4848ec 90.6%,#473fe2 92.2%,#4332ca 93.9%,#422ebf 95.0%,#412dbd 96.6%,#4433cd 100.0%)"></i><i style="left:180.0px;width:2.5px;background:linear-gradient(#4537d6 0.0%,#4434cf 19.7%,#4536d3 55.7%,#4538d8 62.2%,#4435d1 63.9%,#4230c3 66.0%,#4331c8 67.1%,#4743e7 69.3%,#4854f6 71.0%,#4369fe 73.7%,#2f81fa 75.9%,#259ce7 77.5%,#1fa6e2 78.1%,#15afd8 78.6%,#02b7ca 79.1%,#0ebdbb 79.7%,#27c2ac 80.2%,#3eca8f 81.3%,#49cb85 81.9%,#4fcc81 82.4%,#4dcc82 83.0%,#41ca8c 83.5%,#22c1af 84.6%,#02bac4 85.2%,#14b0d8 85.7%,#22a2e4 86.2%,#2b92ee 86.8%,#2f82f9 87.3%,#3b72fe 87.9%,#4465fd 88.4%,#4852f4 89.5%,#4746ea 91.2%,#4740e4 92.2%,#4433cd 93.9%,#422fc0 95.5%,#422fc3 97.2%,#4435d0 99.9%,#4435d0 100.0%)"></i><i style="left:182.0px;width:2.5px;background:linear-gradient(#463cde 0.0%,#4538d8 22.9%,#463ada 57.3%,#463bdd 62.2%,#4536d3 64.4%,#4332c9 66.0%,#4434ce 67.1%,#4740e4 68.8%,#4757f8 71.0%,#406cfe 73.7%,#317efb 75.3%,#2c8ef2 76.4%,#1caadf 78.1%,#02bac5 79.1%,#2cc4a7 80.2%,#3fca8e 81.3%,#48cb86 81.9%,#4bcb83 82.4%,#46cb88 83.0%,#2dc4a6 84.1%,#12beb9 84.6%,#04b6cd 85.2%,#1baade 85.7%,#2d8cf3 86.8%,#317dfc 87.3%,#3f6efe 87.9%,#4758f8 89.0%,#484bef 90.1%,#4741e5 92.2%,#4332ca 94.4%,#4230c3 95.5%,#4332c9 97.7%,#4536d4 100.0%)"></i><i style="left:184.0px;width:2.5px;background:linear-gradient(#4742e6 0.0%,#463de0 28.4%,#463cde 56.8%,#473ee1 62.8%,#4538d8 66.0%,#463de0 67.7%,#4852f4 69.9%,#4367fd 72.6%,#3975fe 74.2%,#2f82fa 75.3%,#2b92ee 76.4%,#18aedb 78.1%,#06b6ce 78.6%,#07bcc0 79.1%,#20c1b1 79.7%,#2fc5a3 80.2%,#40ca8d 81.3%,#46cb88 81.9%,#46cb88 82.4%,#3eca90 83.0%,#33c69e 83.5%,#23c1af 84.1%,#03bbc2 84.6%,#11b1d6 85.2%,#20a4e3 85.7%,#3777fe 87.3%,#4269fe 87.9%,#4756f6 89.0%,#484aee 90.1%,#4742e6 92.2%,#4433cd 94.4%,#4331c5 96.1%,#4537d6 100.0%)"></i><i style="left:186.0px;width:2.5px;background:linear-gradient(#4746ea 0.0%,#473fe2 28.9%,#463ee0 57.3%,#4741e5 63.9%,#4741e5 66.6%,#4756f7 69.9%,#4269fe 72.6%,#3677fe 74.2%,#2e84f8 75.3%,#2994ed 76.4%,#1ea7e1 77.5%,#14b0d8 78.1%,#02b7cb 78.6%,#0bbdbc 79.1%,#24c2ae 79.7%,#31c6a0 80.2%,#42ca8b 81.3%,#47cb87 81.9%,#45cb89 82.4%,#3cc992 83.0%,#30c5a1 83.5%,#1dc0b2 84.1%,#01b9c6 84.6%,#15afd9 85.2%,#22a2e4 85.7%,#2e84f9 86.8%,#3975fe 87.3%,#4368fd 87.9%,#4755f6 89.0%,#484aee 90.1%,#4743e7 92.2%,#4536d4 93.9%,#4332c8 95.5%,#4434ce 97.7%,#4538d8 100.0%)"></i><i style="left:188.0px;width:2.5px;background:linear-gradient(#4742e6 0.0%,#463de0 28.4%,#463de0 57.9%,#4848ec 66.6%,#4564fd 71.5%,#3f6fff 73.1%,#307ffb 74.8%,#249fe5 77.0%,#1da9e0 77.5%,#01b8c8 78.6%,#11beba 79.1%,#27c2ab 79.7%,#3bc993 80.8%,#47cb87 81.9%,#43ca8a 82.4%,#2ec4a4 83.5%,#01b8ca 84.6%,#19addc 85.2%,#2c90f0 86.2%,#2f81fa 86.8%,#3b72fe 87.3%,#4466fd 87.9%,#4854f5 89.0%,#4848ec 90.6%,#4743e7 92.2%,#4434d0 94.4%,#4332c9 96.1%,#4539d9 100.0%)"></i><i style="left:190.0px;width:2.5px;background:linear-gradient(#463cdf 0.0%,#4539d9 21.3%,#463bdd 56.2%,#4745e9 63.9%,#4853f5 68.2%,#416bfe 72.6%,#3080fa 74.8%,#2c8ff0 75.9%,#23a1e4 77.0%,#1baade 77.5%,#01b9c6 78.6%,#29c3a9 79.7%,#3cc992 80.8%,#43ca8a 81.3%,#46cb88 81.9%,#40ca8d 82.4%,#2ac3a9 83.5%,#0ebebb 84.1%,#06b5ce 84.6%,#1caadf 85.2%,#2d8df2 86.2%,#317efb 86.8%,#3e6fff 87.3%,#4564fd 87.9%,#4853f5 89.0%,#4747ec 90.6%,#4743e7 92.2%,#4435d0 94.4%,#4332c9 96.1%,#4639d9 100.0%)"></i><i style="left:192.0px;width:2.5px;background:linear-gradient(#4639d9 0.0%,#4536d4 19.7%,#463bdc 56.8%,#4742e6 62.8%,#475cfa 69.9%,#3e70ff 73.1%,#2f81fa 74.8%,#2699e9 76.4%,#1aacdd 77.5%,#0ab4d1 78.1%,#02bac4 78.6%,#19bfb5 79.1%,#2bc3a7 79.7%,#3cc991 80.8%,#43ca8b 81.3%,#44cb8a 81.9%,#3dca90 82.4%,#33c79c 83.0%,#26c2ad 83.5%,#07bcbf 84.1%,#0cb3d3 84.6%,#1ea7e1 85.2%,#337bfd 86.8%,#406dfe 87.3%,#4758f8 88.4%,#4848ec 90.1%,#4745ea 91.7%,#4434d0 94.4%,#4332c9 96.1%,#4639d9 100.0%)"></i><i style="left:194.0px;width:2.5px;background:linear-gradient(#463bdd 0.0%,#4538d8 20.7%,#463bdc 56.2%,#4741e5 62.2%,#465ffb 70.4%,#406cfe 72.6%,#327cfc 74.2%,#2d8af5 75.3%,#259be8 76.4%,#18addb 77.5%,#07b5cf 78.1%,#05bbc1 78.6%,#1dc0b3 79.1%,#2dc4a6 79.7%,#3dc990 80.8%,#42ca8b 81.3%,#42ca8b 81.9%,#3bc993 82.4%,#31c6a0 83.0%,#20c1b1 83.5%,#02bac4 84.1%,#12b1d7 84.6%,#21a4e3 85.2%,#3677fe 86.8%,#426afe 87.3%,#4756f7 88.4%,#4747eb 90.1%,#4742e6 92.2%,#4434cf 94.4%,#4332c9 95.5%,#4433cc 97.2%,#4538d8 99.3%,#4639d9 100.0%)"></i><i style="left:196.0px;width:2.5px;background:linear-gradient(#4741e4 0.0%,#463cde 25.1%,#463cde 57.3%,#4744e9 63.3%,#465dfa 69.9%,#406dfe 72.6%,#317dfc 74.2%,#2a93ed 75.9%,#1fa6e2 77.0%,#16afd9 77.5%,#04b6cd 78.1%,#08bcbf 78.6%,#20c1b1 79.1%,#2ec5a4 79.7%,#3dca90 80.8%,#42ca8c 81.3%,#40ca8d 81.9%,#38c896 82.4%,#2ec4a4 83.0%,#01b8c8 84.1%,#17aeda 84.6%,#2b92ef 85.7%,#2e83f9 86.2%,#3a74fe 86.8%,#4367fd 87.3%,#4755f6 88.4%,#4746ea 90.1%,#4741e5 92.2%,#4434ce 94.4%,#4331c8 96.1%,#4539d9 100.0%)"></i><i style="left:198.0px;width:2.5px;background:linear-gradient(#4743e7 0.0%,#463de0 28.4%,#463cde 57.3%,#4744e8 63.3%,#465ffb 70.4%,#406cfe 72.6%,#327cfc 74.2%,#2a93ed 75.9%,#17aeda 77.5%,#05b6ce 78.1%,#05bbc1 78.6%,#1cc0b3 79.1%,#2bc3a8 79.7%,#33c69d 80.2%,#3ac994 81.3%,#38c896 81.9%,#31c6a0 82.4%,#25c2ad 83.0%,#09bcbe 83.5%,#08b4d1 84.1%,#1da9e0 84.6%,#2d8cf3 85.7%,#317efb 86.2%,#3e6fff 86.8%,#4563fd 87.3%,#484cf0 89.0%,#4744e8 90.6%,#4741e5 92.2%,#4536d2 93.9%,#4331c8 95.5%,#4433cb 97.2%,#4537d7 99.3%,#4538d8 100.0%)"></i><i style="left:200.0px;width:2.5px;background:linear-gradient(#4740e3 0.0%,#463bdc 25.1%,#463bdd 57.9%,#4745e9 63.9%,#465efb 70.4%,#3e70ff 73.1%,#2e83f9 74.8%,#259ce7 76.4%,#18addb 77.5%,#07b5d0 78.1%,#02bbc3 78.6%,#17bfb6 79.1%,#27c2ab 79.7%,#33c69d 80.8%,#34c79b 81.3%,#32c69f 81.9%,#2ac3a9 82.4%,#01b9c7 83.5%,#14b0d8 84.1%,#21a3e3 84.6%,#2e87f7 85.7%,#3578fd 86.2%,#416bfe 86.8%,#4757f7 87.9%,#4746ea 89.5%,#4740e4 92.2%,#4433cd 94.4%,#4331c7 96.1%,#4435d1 98.3%,#4538d8 100.0%)"></i><i style="left:202.0px;width:2.5px;background:linear-gradient(#4639da 0.0%,#4536d4 21.8%,#4539d9 56.2%,#473fe3 62.2%,#465dfb 70.4%,#426afe 72.6%,#2f82fa 74.8%,#2b92ee 75.9%,#19addc 77.5%,#0ab4d1 78.1%,#01bac5 78.6%,#22c1b0 79.7%,#2bc3a8 80.2%,#2fc5a3 81.3%,#2bc3a8 81.9%,#1fc1b1 82.4%,#08bcbf 83.0%,#06b5cf 83.5%,#1babde 84.1%,#2c90f0 85.2%,#2f82fa 85.7%,#3a73fe 86.2%,#4366fd 86.8%,#4854f5 87.9%,#4745e9 89.5%,#4742e6 91.2%,#473fe3 92.2%,#4433cc 94.4%,#4331c6 95.5%,#4332ca 97.2%,#4538d7 99.9%,#4538d7 100.0%)"></i><i style="left:204.0px;width:2.5px;background:linear-gradient(#4536d4 0.0%,#4434ce 20.2%,#4538d7 56.2%,#4740e3 62.8%,#475af9 69.9%,#426afe 72.6%,#2f82fa 74.8%,#269ae8 76.4%,#1aacdd 77.5%,#01b9c8 78.6%,#0abdbd 79.1%,#1bc0b4 79.7%,#25c2ad 80.2%,#29c3aa 81.3%,#22c1af 81.9%,#01b9c7 83.0%,#1fa6e2 84.1%,#327dfc 85.7%,#3f6eff 86.2%,#4759f8 87.3%,#4743e7 89.5%,#473fe2 92.2%,#4433cb 94.4%,#4330c5 96.1%,#4538d7 100.0%)"></i><i style="left:206.0px;width:2.5px;background:linear-gradient(#4538d8 0.0%,#4435d1 19.7%,#4538d8 56.2%,#4741e5 63.3%,#465efb 71.0%,#416bfe 73.1%,#317dfc 74.8%,#2895ec 76.4%,#1fa6e2 77.5%,#17aeda 78.1%,#08b5d0 78.6%,#01b9c6 79.1%,#19bfb5 80.2%,#20c1b1 80.8%,#22c1b0 81.3%,#1cc0b3 81.9%,#01b9c7 83.0%,#1ea7e1 84.1%,#2d8df2 85.2%,#307ffb 85.7%,#3c71ff 86.2%,#4465fd 86.8%,#484df0 88.4%,#4742e6 90.1%,#4742e6 91.7%,#463bdd 92.8%,#4433cb 94.4%,#4330c5 96.1%,#4537d7 100.0%)"></i><i style="left:208.0px;width:2.5px;background:linear-gradient(#463de0 0.0%,#4639da 20.2%,#463adb 56.8%,#4742e6 63.3%,#465ffb 71.5%,#406dfe 73.7%,#3080fa 75.3%,#2c8ff0 76.4%,#1da8e0 78.1%,#14b0d8 78.6%,#06b5cf 79.1%,#01b9c6 79.7%,#11beb9 80.8%,#16bfb7 81.3%,#13beb9 81.9%,#01b8c9 83.0%,#1da8e0 84.1%,#2c8ff0 85.2%,#2f82fa 85.7%,#3a74fe 86.2%,#4367fd 86.8%,#484ef1 88.4%,#4743e7 90.1%,#473fe3 92.2%,#4433cb 94.4%,#4330c5 96.1%,#4537d6 100.0%)"></i><i style="left:210.0px;width:2.5px;background:linear-gradient(#4742e6 0.0%,#463cdf 31.7%,#463bdd 56.8%,#4742e6 63.3%,#465ffb 72.1%,#3f6eff 74.2%,#2f82f9 75.9%,#269ae8 77.5%,#1caadf 78.6%,#06b5cf 79.7%,#01b9c7 80.2%,#08bcbf 81.3%,#08bcbf 81.9%,#02bbc3 82.4%,#02b7cb 83.0%,#12b1d6 83.5%,#249de7 84.6%,#2e83f9 85.7%,#3876fe 86.2%,#4269fe 86.8%,#484ff2 88.4%,#4743e7 90.1%,#473fe3 92.2%,#4433cb 94.4%,#4330c5 96.1%,#4537d6 100.0%)"></i><i style="left:212.0px;width:2.5px;background:linear-gradient(#4744e8 0.0%,#463de0 29.5%,#463bdd 57.3%,#4743e7 63.9%,#4853f5 70.4%,#4465fd 73.7%,#3875fe 75.3%,#2e84f9 76.4%,#259ce7 78.1%,#13b0d7 79.7%,#08b5d0 80.2%,#02b7cb 80.8%,#01b9c6 81.9%,#01b8c8 82.4%,#06b5cf 83.0%,#14b0d8 83.5%,#249de6 84.6%,#3677fe 86.2%,#416bfe 86.8%,#4757f7 87.9%,#4746ea 89.5%,#473fe3 92.2%,#4332cb 94.4%,#4230c4 96.1%,#4537d5 100.0%)"></i><i style="left:214.0px;width:2.5px;background:linear-gradient(#473ee1 0.0%,#4639da 25.7%,#463ada 57.9%,#4740e3 63.3%,#484bee 68.2%,#484ef1 71.5%,#4563fc 74.2%,#3e6fff 75.3%,#317dfc 76.4%,#259ce7 78.6%,#15afd9 80.2%,#07b5cf 81.3%,#06b5ce 82.4%,#0cb3d3 83.0%,#1ea7e1 84.1%,#2b92ee 85.2%,#2e85f8 85.7%,#3579fd 86.2%,#416cfe 86.8%,#4758f8 87.9%,#4746ea 89.5%,#4742e6 91.7%,#4332ca 94.4%,#4230c3 95.5%,#4331c7 97.2%,#4536d5 100.0%)"></i><i style="left:216.0px;width:2.5px;background:linear-gradient(#4537d5 0.0%,#4434cf 18.6%,#4537d5 57.3%,#463de0 63.3%,#4746ea 67.7%,#4741e4 71.0%,#484aee 72.6%,#4562fc 74.8%,#3e6fff 75.9%,#317efb 77.0%,#259de7 79.1%,#18addb 80.8%,#10b2d5 81.9%,#0fb2d5 82.4%,#1aacdd 83.5%,#2b91ef 85.2%,#3479fd 86.2%,#406dfe 86.8%,#4759f8 87.9%,#4746ea 89.5%,#473ee2 92.2%,#4332c8 94.4%,#422fc2 96.1%,#4536d4 100.0%)"></i><i style="left:218.0px;width:2.5px;background:linear-gradient(#4434ce 0.0%,#4331c8 18.0%,#4435d1 56.8%,#463bdd 63.3%,#4743e7 67.1%,#463cde 69.3%,#4537d6 70.4%,#4538d8 71.5%,#4747ec 73.1%,#4562fc 75.3%,#3e70ff 76.4%,#307ffb 77.5%,#22a2e4 80.2%,#19addc 81.9%,#19acdc 83.0%,#21a3e3 84.1%,#2e86f7 85.7%,#347afd 86.2%,#3f6dfe 86.8%,#4759f9 87.9%,#4747eb 89.5%,#4742e6 90.6%,#4741e5 91.7%,#4331c8 94.4%,#422fc1 95.5%,#4330c5 97.2%,#4536d3 100.0%)"></i><i style="left:220.0px;width:2.5px;background:linear-gradient(#4435d0 0.0%,#4332ca 18.6%,#4435d1 56.8%,#463bdd 63.3%,#4741e6 67.1%,#463cdf 68.8%,#4434cf 70.4%,#4435d0 71.5%,#4743e8 73.1%,#4759f8 74.8%,#416bfe 76.4%,#3479fd 77.5%,#2d88f6 78.6%,#22a2e4 80.8%,#1baadf 82.4%,#1ea7e1 83.5%,#269ae8 84.6%,#337bfc 86.2%,#3e6fff 86.8%,#4564fd 87.3%,#484cf0 89.0%,#4742e6 90.6%,#4741e5 91.7%,#4536d3 93.3%,#4230c3 95.0%,#422fc2 96.6%,#4536d2 100.0%)"></i><i style="left:222.0px;width:2.5px;background:linear-gradient(#4538d8 0.0%,#4435d1 20.7%,#4537d5 57.9%,#473ee1 64.4%,#4742e7 67.1%,#463bdd 69.3%,#4536d4 71.0%,#463adb 72.1%,#4852f4 74.2%,#4368fe 76.4%,#327cfc 78.1%,#249ee6 80.8%,#1ea7e1 82.4%,#1fa6e2 83.5%,#2a93ee 85.2%,#317efb 86.2%,#3c72ff 86.8%,#465dfa 87.9%,#4849ed 89.5%,#4743e7 90.6%,#4742e6 91.7%,#4536d4 93.3%,#4230c3 95.0%,#422fc0 96.1%,#4535d2 100.0%)"></i><i style="left:224.0px;width:2.5px;background:linear-gradient(#473ee1 0.0%,#4639da 26.7%,#4539d8 57.9%,#473ee2 63.9%,#4744e8 67.7%,#463de0 71.0%,#4745e9 72.6%,#4758f8 74.8%,#416bfe 77.0%,#307ffb 78.6%,#249ee6 81.3%,#1fa5e2 83.0%,#259ce7 84.6%,#2f81fa 86.2%,#426afe 87.3%,#4851f3 89.0%,#4744e9 90.6%,#473fe2 92.2%,#4331c8 94.4%,#422fc1 95.5%,#4331c7 97.7%,#4535d2 100.0%)"></i><i style="left:226.0px;width:2.5px;background:linear-gradient(#4742e6 0.0%,#463bde 28.4%,#4639da 57.9%,#473fe2 63.9%,#4746ea 68.2%,#4747eb 71.5%,#4564fd 76.4%,#3a74fe 78.1%,#2f81fa 79.1%,#249ee6 81.9%,#22a2e4 83.5%,#2896eb 85.2%,#347afd 86.8%,#4465fd 87.9%,#484ef1 89.5%,#4745e9 91.2%,#4740e4 92.2%,#4331c8 94.4%,#422fc0 96.1%,#4435d1 100.0%)"></i><i style="left:228.0px;width:2.5px;background:linear-gradient(#473fe2 0.0%,#463adb 23.5%,#4538d8 57.9%,#4740e4 65.0%,#484ff2 72.6%,#4465fd 77.0%,#3876fe 78.6%,#2e83f9 79.7%,#2699e9 81.9%,#249fe5 83.5%,#2796eb 85.2%,#317dfb 86.8%,#4368fe 87.9%,#4851f3 89.5%,#4741e5 92.2%,#4434ce 93.9%,#422fc1 95.5%,#4230c3 97.2%,#4434cf 99.3%,#4435d1 100.0%)"></i><i style="left:230.0px;width:2.5px;background:linear-gradient(#4538d8 0.0%,#4435d1 20.7%,#4536d4 57.9%,#463de0 64.4%,#4758f8 75.3%,#416afe 78.1%,#317dfc 79.7%,#2994ed 81.9%,#259be7 83.5%,#2896ec 85.2%,#3080fb 86.8%,#416cfe 87.9%,#4853f5 89.5%,#4848ec 91.2%,#4741e5 92.2%,#4331c8 94.4%,#422ebf 96.1%,#4332c9 98.3%,#4434d0 100.0%)"></i><i style="left:232.0px;width:2.5px;background:linear-gradient(#4435d0 0.0%,#4332c9 19.7%,#4434cf 57.9%,#463bdc 64.4%,#484bee 71.0%,#475af9 76.4%,#416afe 78.6%,#317efb 80.2%,#2a93ee 82.4%,#2798ea 84.1%,#2c8ff0 85.7%,#2f81fa 86.8%,#3f6eff 87.9%,#465dfa 89.0%,#484cf0 90.6%,#4742e6 92.2%,#4434ce 93.9%,#422fc0 95.5%,#422ebf 96.6%,#4434cf 100.0%)"></i><i style="left:234.0px;width:2.5px;background:linear-gradient(#4433cd 0.0%,#4331c5 20.7%,#4433cb 56.8%,#4538d8 63.9%,#4848ec 70.4%,#4757f7 77.0%,#416bfe 79.1%,#307ffb 80.8%,#2b91ef 83.0%,#2994ed 84.6%,#2c8ff1 85.7%,#337afd 87.3%,#4368fe 88.4%,#4853f5 90.1%,#4744e8 92.2%,#4434d0 93.9%,#422fc0 95.5%,#422fc2 97.2%,#4434cf 100.0%)"></i><i style="left:236.0px;width:2.5px;background:linear-gradient(#4433cd 0.0%,#4330c5 19.7%,#4433cb 56.8%,#4538d8 63.9%,#484aee 71.5%,#484ff2 75.9%,#4854f5 77.5%,#406cfe 79.7%,#2f81fa 81.3%,#2b91ef 83.5%,#2b92ee 85.2%,#2e85f8 86.8%,#3875fe 87.9%,#4464fd 89.0%,#4852f4 90.6%,#4746ea 92.2%,#4536d2 93.9%,#422fc2 95.5%,#4230c3 97.2%,#4435d0 100.0%)"></i><i style="left:238.0px;width:2.5px;background:linear-gradient(#4434cf 0.0%,#4332c9 19.7%,#4434ce 56.2%,#4538d8 62.8%,#484cf0 72.1%,#484df0 74.8%,#4848ec 77.0%,#4757f7 78.6%,#4368fe 79.7%,#317efb 81.3%,#2c8ff0 83.5%,#2b92ee 85.2%,#2d88f6 86.8%,#347afd 87.9%,#4269fe 89.0%,#475bf9 90.1%,#484aed 92.2%,#4538d7 93.9%,#4331c6 95.5%,#4230c4 96.6%,#4535d2 100.0%)"></i><i style="left:240.0px;width:2.5px;background:linear-gradient(#4538d7 0.0%,#4435d0 22.4%,#4537d5 57.9%,#463de0 64.4%,#484df0 71.5%,#484ef1 74.2%,#473fe3 77.0%,#4741e5 77.5%,#475af9 79.1%,#3f6dfe 80.2%,#327cfc 81.3%,#2c8ef1 83.5%,#2b92ee 85.2%,#2d8af4 86.8%,#317efb 87.9%,#3f6eff 89.0%,#475cfa 90.6%,#484ef1 92.2%,#463adc 93.9%,#4433cb 95.5%,#4332ca 97.2%,#4537d5 100.0%)"></i><i style="left:242.0px;width:2.5px;background:linear-gradient(#463de0 0.0%,#4639da 22.9%,#463bdc 59.0%,#4743e7 65.5%,#4852f4 73.1%,#484cf0 74.8%,#463cdf 76.4%,#463adb 77.0%,#463cde 77.5%,#484cf0 78.6%,#4562fc 79.7%,#3974fe 80.8%,#2f81fa 81.9%,#2c90f0 84.1%,#2c90f0 86.2%,#327cfc 88.4%,#4466fd 90.1%,#4852f4 92.2%,#463ee1 93.9%,#4435d0 95.5%,#4434cf 97.2%,#4539d8 100.0%)"></i><i style="left:244.0px;width:2.5px;background:linear-gradient(#4743e7 0.0%,#463ee1 27.3%,#473fe2 60.0%,#4848ec 66.6%,#4854f5 73.1%,#484ef1 74.8%,#463ee1 76.4%,#463cde 77.0%,#463de0 77.5%,#4758f8 79.1%,#406cfe 80.2%,#2f80fa 81.9%,#2c8ff0 84.1%,#2b91ef 86.2%,#307ffb 88.4%,#416afe 90.1%,#4756f7 92.2%,#463cdf 94.4%,#4536d3 96.1%,#4538d7 98.3%,#463adb 100.0%)"></i><i style="left:246.0px;width:2.5px;background:linear-gradient(#4747eb 0.0%,#4742e6 26.2%,#4742e6 60.6%,#4756f7 73.1%,#484ef1 75.3%,#4745e9 76.4%,#4745ea 77.5%,#475cfa 79.1%,#3975fe 80.8%,#2f80fa 81.9%,#2c8ef1 84.1%,#2b91ef 86.2%,#2f81fa 88.4%,#4368fe 90.6%,#4759f8 92.2%,#473fe2 94.4%,#4537d6 96.1%,#4639da 98.3%,#463bde 100.0%)"></i><i style="left:248.0px;width:2.5px;background:linear-gradient(#4848ec 0.0%,#4743e7 35.5%,#4744e8 61.7%,#4757f7 73.1%,#4853f5 75.3%,#484ef1 77.0%,#4854f5 78.1%,#4368fe 79.7%,#307ffb 81.9%,#2c8ff1 84.6%,#2c90f0 86.2%,#2f82f9 88.4%,#3e70ff 90.1%,#475bfa 92.2%,#4740e4 94.4%,#4538d8 96.1%,#463bdd 98.8%,#463cdf 100.0%)"></i><i style="left:250.0px;width:2.5px;background:linear-gradient(#4848ec 0.0%,#4743e7 25.1%,#4743e7 61.1%,#4756f7 73.7%,#4755f6 77.0%,#4563fd 79.1%,#3678fd 81.3%,#2e85f8 83.0%,#2c8ff1 85.7%,#2e87f7 87.9%,#3776fe 89.5%,#4368fe 91.2%,#4854f6 92.8%,#4741e5 94.4%,#4539d8 96.1%,#463bdc 98.8%,#463cde 100.0%)"></i><i style="left:252.0px;width:2.5px;background:linear-gradient(#4744e8 0.0%,#473fe2 27.8%,#4740e3 59.5%,#4747ec 66.0%,#4755f6 74.2%,#475cfa 78.1%,#3e70ff 80.8%,#2f81fa 83.0%,#2d8bf4 85.2%,#2d89f6 87.3%,#327cfc 89.0%,#416cfe 90.6%,#475cfa 92.2%,#4740e4 94.4%,#4538d7 96.1%,#463bdd 100.0%)"></i><i style="left:254.0px;width:2.5px;background:linear-gradient(#473ee1 0.0%,#463adc 23.5%,#463cde 58.4%,#4744e8 66.0%,#4853f5 74.8%,#475bf9 78.1%,#3f6eff 81.3%,#307ffb 83.5%,#2d89f5 86.2%,#307ffb 88.4%,#416bfe 90.6%,#475cfa 92.2%,#473fe3 94.4%,#4537d5 96.1%,#4538d7 98.3%,#463ada 100.0%)"></i><i style="left:256.0px;width:2.5px;background:linear-gradient(#463adb 0.0%,#4536d5 20.2%,#4539d8 58.4%,#4740e4 66.0%,#484ff2 74.2%,#475bf9 78.6%,#3f6efe 82.4%,#2f81fa 84.6%,#2e86f7 86.2%,#317efb 88.4%,#426afe 90.6%,#475bf9 92.2%,#473ee2 94.4%,#4536d3 96.1%,#4536d2 97.7%,#4538d8 100.0%)"></i><i style="left:258.0px;width:2.5px;background:linear-gradient(#4537d6 0.0%,#4434ce 20.7%,#4536d2 57.9%,#473ee1 66.6%,#484bee 73.7%,#4756f6 78.1%,#4563fd 82.4%,#3777fe 84.1%,#2f80fa 85.2%,#2f82f9 87.3%,#3678fe 89.0%,#4466fd 91.2%,#475bf9 92.2%,#463de0 94.4%,#4435d0 96.1%,#4434cf 97.7%,#4536d4 100.0%)"></i><i style="left:260.0px;width:2.5px;background:linear-gradient(#4435d1 0.0%,#4332c9 19.7%,#4434cd 57.3%,#4639d9 65.0%,#4745ea 72.1%,#4853f5 78.1%,#4757f7 80.2%,#4755f6 81.9%,#465ffb 83.0%,#3d70ff 84.1%,#317dfc 85.2%,#2f81fa 86.8%,#3777fe 89.0%,#4269fe 90.6%,#475af9 92.2%,#463de0 94.4%,#4434ce 96.1%,#4434ce 98.3%,#4435d2 100.0%)"></i><i style="left:262.0px;width:2.5px;background:linear-gradient(#4433cd 0.0%,#4331c6 19.1%,#4332ca 56.8%,#4536d3 63.3%,#4744e8 72.6%,#4851f4 78.1%,#4855f6 79.7%,#484df1 81.9%,#4758f8 83.0%,#416bfe 84.1%,#347afd 85.2%,#307ffb 86.8%,#347afd 88.4%,#4269fe 90.6%,#4562fc 91.7%,#484aee 93.3%,#4538d8 95.0%,#4433cd 96.1%,#4433cb 97.7%,#4434d0 100.0%)"></i><i style="left:264.0px;width:2.5px;background:linear-gradient(#4433cd 0.0%,#4330c5 20.7%,#4332c9 56.8%,#4435d1 63.3%,#4742e6 72.1%,#4850f3 78.1%,#4852f4 80.2%,#484cef 81.9%,#4756f7 83.0%,#4269fe 84.1%,#3678fd 85.2%,#317dfb 86.2%,#327cfc 87.9%,#426afe 90.6%,#475cfa 92.2%,#463de0 94.4%,#4434cd 96.1%,#4332cb 97.7%,#4434cf 100.0%)"></i><i style="left:266.0px;width:2.5px;background:linear-gradient(#4434cf 0.0%,#4331c7 19.7%,#4332ca 57.3%,#4536d4 64.4%,#4744e8 73.1%,#4852f4 78.6%,#4852f4 80.8%,#4851f3 81.9%,#475af9 83.0%,#3b72fe 84.6%,#337bfc 85.7%,#327cfc 87.9%,#416afe 90.6%,#4563fd 91.7%,#484bef 93.3%,#4639da 95.0%,#4434ce 96.1%,#4433cc 98.3%,#4434cf 100.0%)"></i><i style="left:268.0px;width:2.5px;background:linear-gradient(#4435d1 0.0%,#4332ca 20.2%,#4433cc 57.3%,#4537d6 64.4%,#484bef 76.4%,#4757f7 80.2%,#475cfa 82.4%,#3f6fff 84.1%,#327bfc 85.7%,#327cfc 87.9%,#416bfe 90.6%,#465dfa 92.2%,#473fe2 94.4%,#4434cf 96.1%,#4433cd 98.3%,#4434cf 100.0%)"></i><i style="left:270.0px;width:2.5px;background:linear-gradient(#4537d5 0.0%,#4433cd 20.7%,#4434cf 57.3%,#4539d9 65.0%,#484bef 75.9%,#4564fd 82.4%,#347afd 85.2%,#317dfc 87.3%,#3b72ff 89.5%,#465efb 92.2%,#4740e3 94.4%,#4435d1 96.1%,#4434ce 97.7%,#4435d1 100.0%)"></i><i style="left:272.0px;width:2.5px;background:linear-gradient(#4539d8 0.0%,#4435d1 22.9%,#4536d3 59.0%,#4740e3 69.9%,#4850f2 77.0%,#4466fd 81.9%,#337afd 85.2%,#317dfc 87.3%,#3b73fe 89.5%,#465ffb 92.2%,#4741e5 94.4%,#4536d4 96.1%,#4435d0 97.7%,#4536d3 100.0%)"></i><i style="left:274.0px;width:2.5px;background:linear-gradient(#463adc 0.0%,#4537d5 21.8%,#4537d6 59.5%,#463cdf 69.3%,#4848ec 73.7%,#475af9 79.1%,#406cfe 82.4%,#317dfc 85.7%,#327cfc 87.9%,#426afe 91.2%,#4758f8 92.8%,#4742e6 94.4%,#4537d6 96.1%,#4536d2 97.7%,#4537d5 100.0%)"></i><i style="left:276.0px;width:2.5px;background:linear-gradient(#463cde 0.0%,#4538d7 21.8%,#4538d8 60.0%,#463adc 65.5%,#4538d7 68.8%,#4848ec 73.1%,#4756f7 78.1%,#3f6eff 82.4%,#317dfc 85.7%,#317dfc 87.9%,#416bfe 91.2%,#4661fc 92.2%,#4743e7 94.4%,#4538d8 96.1%,#4536d4 97.7%,#4538d7 100.0%)"></i><i style="left:278.0px;width:2.5px;background:linear-gradient(#463cde 0.0%,#4538d7 23.5%,#4639d9 59.5%,#463bdc 65.0%,#4434ce 68.2%,#4435d1 69.3%,#4744e8 72.1%,#475cfa 79.1%,#3e6fff 82.4%,#317dfc 85.2%,#317dfc 87.9%,#416cfe 91.2%,#4561fc 92.2%,#4744e8 94.4%,#4639d9 96.1%,#4538d7 98.3%,#4539d9 100.0%)"></i><i style="left:280.0px;width:2.5px;background:linear-gradient(#463bdd 0.0%,#4538d7 21.8%,#4639da 59.0%,#463bde 64.4%,#4536d3 66.6%,#4331c8 68.2%,#4433cb 69.3%,#4740e3 71.5%,#4849ed 73.1%,#465dfa 79.1%,#406dfe 81.9%,#317dfc 85.2%,#307ffb 87.3%,#3875fe 89.5%,#4368fe 91.7%,#4852f4 93.3%,#463cdf 95.5%,#4538d8 96.6%,#463ada 100.0%)"></i><i style="left:282.0px;width:2.5px;background:linear-gradient(#463cde 0.0%,#4538d8 20.2%,#463adb 57.9%,#463cdf 64.4%,#4537d5 66.6%,#4332ca 68.2%,#4433cd 69.3%,#4744e8 72.1%,#4852f4 75.9%,#4661fc 79.7%,#3a74fe 83.0%,#307ffb 85.7%,#317efb 87.9%,#3b72ff 90.1%,#4269fe 91.7%,#4853f5 93.3%,#463de0 95.5%,#4539d9 97.2%,#463adc 100.0%)"></i><i style="left:284.0px;width:2.5px;background:linear-gradient(#463ee1 0.0%,#463adb 22.9%,#463cde 59.5%,#463ee1 65.0%,#4536d3 68.8%,#4742e6 71.5%,#4850f2 74.8%,#4562fc 79.7%,#3975fe 83.0%,#307efb 85.2%,#3080fa 87.3%,#347afd 89.0%,#426afe 91.7%,#4853f5 93.3%,#4742e6 95.0%,#463adb 96.6%,#463bdd 100.0%)"></i><i style="left:286.0px;width:2.5px;background:linear-gradient(#4741e5 0.0%,#463ddf 26.2%,#473ee1 61.1%,#4740e3 65.5%,#463bdd 68.8%,#4852f4 75.3%,#4465fd 80.2%,#3578fd 83.5%,#2f81fa 86.2%,#317dfc 88.4%,#426afe 91.7%,#4854f5 93.3%,#473ee1 95.5%,#463adb 97.7%,#463cde 100.0%)"></i><i style="left:288.0px;width:2.5px;background:linear-gradient(#4744e8 0.0%,#473fe2 31.1%,#4740e3 62.2%,#4741e5 66.6%,#473fe3 70.4%,#4755f6 76.4%,#4369fe 80.8%,#317dfc 84.6%,#2f81fa 86.8%,#347afd 89.0%,#426afe 91.7%,#4854f5 93.3%,#473ee2 95.5%,#463adb 97.2%,#463cde 100.0%)"></i><i style="left:290.0px;width:2.5px;background:linear-gradient(#4745e9 0.0%,#473fe3 28.4%,#473ee1 59.5%,#4742e6 67.1%,#463cdf 71.0%,#4745e9 73.1%,#4757f7 77.0%,#416bfe 81.3%,#327dfc 84.6%,#3080fb 87.3%,#3876fe 89.5%,#4269fe 91.7%,#4853f5 93.3%,#463ee1 95.5%,#463adb 97.7%,#463cde 100.0%)"></i><i style="left:292.0px;width:2.5px;background:linear-gradient(#4741e5 0.0%,#463ddf 28.4%,#463ee0 61.1%,#4741e5 67.1%,#463bdc 69.3%,#4537d6 71.0%,#463ddf 72.6%,#484cef 74.8%,#4464fd 80.2%,#3777fe 83.5%,#307efb 85.7%,#317dfc 87.9%,#4369fe 91.7%,#4853f5 93.3%,#463de0 95.5%,#463ada 97.7%,#463bdd 100.0%)"></i><i style="left:294.0px;width:2.5px;background:linear-gradient(#463cdf 0.0%,#4539d9 20.2%,#463bdc 59.5%,#473fe3 67.1%,#4536d4 69.9%,#4434cf 71.0%,#4536d5 72.1%,#484aee 74.8%,#4563fc 80.2%,#3875fe 83.5%,#317dfc 85.7%,#327cfc 87.9%,#416bfe 91.2%,#4561fc 92.2%,#4745e9 94.4%,#463adc 96.1%,#463ada 98.3%,#463bdc 100.0%)"></i><i style="left:296.0px;width:2.5px;background:linear-gradient(#4639d9 0.0%,#4536d3 21.8%,#4538d8 58.4%,#463ee1 67.1%,#4538d8 69.3%,#4435d0 71.0%,#463de0 73.1%,#4849ed 74.8%,#4562fc 80.2%,#3974fe 83.5%,#317dfc 86.2%,#3579fd 88.4%,#4367fd 91.7%,#4759f8 92.8%,#4744e9 94.4%,#463adb 96.1%,#4639d9 98.3%,#463adb 100.0%)"></i><i style="left:298.0px;width:2.5px;background:linear-gradient(#4538d7 0.0%,#4435d0 20.7%,#4537d6 58.4%,#463de0 67.7%,#4538d8 71.0%,#4743e7 73.7%,#4757f7 78.1%,#3f6efe 82.4%,#327bfc 85.7%,#337afd 87.9%,#426afe 91.2%,#4758f8 92.8%,#473fe3 95.0%,#4538d8 96.6%,#463adb 100.0%)"></i><i style="left:300.0px;width:2.5px;background:linear-gradient(#4538d8 0.0%,#4435d1 20.7%,#4538d7 59.0%,#473fe2 68.2%,#473fe2 71.5%,#4851f3 76.4%,#4367fd 81.3%,#3578fd 84.6%,#327cfc 87.3%,#426afe 91.2%,#4758f8 92.8%,#4740e3 95.0%,#4539d9 96.6%,#463adc 100.0%)"></i><i style="left:302.0px;width:2.5px;background:linear-gradient(#463bdc 0.0%,#4537d6 20.2%,#4639d9 57.9%,#4745ea 72.1%,#465ffb 79.7%,#3c72ff 83.0%,#327cfc 85.7%,#337bfd 87.9%,#426afe 91.2%,#4561fc 92.2%,#4745e9 94.4%,#4639da 96.6%,#463bdd 100.0%)"></i><i style="left:304.0px;width:2.5px;background:linear-gradient(#473ee2 0.0%,#463adc 21.3%,#463cde 59.5%,#4849ed 71.5%,#4758f8 77.5%,#426afe 81.3%,#327cfc 85.2%,#327cfc 87.9%,#4368fe 91.7%,#4853f4 93.3%,#4742e6 95.0%,#463bdc 96.6%,#463cdf 100.0%)"></i><i style="left:306.0px;width:2.5px;background:linear-gradient(#4742e6 0.0%,#463ee1 27.8%,#4740e3 61.1%,#484ef1 72.6%,#475cfa 78.1%,#416cfe 81.3%,#317dfc 85.2%,#317dfc 87.9%,#4269fe 91.7%,#4854f5 93.3%,#473fe3 95.5%,#463cde 97.2%,#463ee1 100.0%)"></i><i style="left:308.0px;width:2.5px;background:linear-gradient(#4746ea 0.0%,#4741e5 30.0%,#4742e6 61.1%,#4853f5 74.2%,#4562fc 79.1%,#3a73fe 82.4%,#307ffb 85.2%,#317efb 87.9%,#416afe 91.7%,#484ff2 93.9%,#4741e5 95.5%,#463de0 97.2%,#473fe2 100.0%)"></i><i style="left:310.0px;width:2.5px;background:linear-gradient(#4848ec 0.0%,#4743e7 31.1%,#4745e9 62.8%,#4759f9 76.4%,#416cfe 80.8%,#317efb 84.6%,#2f80fa 87.3%,#3776fe 89.5%,#416bfe 91.7%,#4756f7 93.3%,#4742e6 95.5%,#463ee1 97.2%,#4740e4 100.0%)"></i><i style="left:312.0px;width:2.5px;background:linear-gradient(#4849ed 0.0%,#4744e8 33.8%,#4745e9 61.7%,#4757f7 75.3%,#4269fe 80.2%,#327cfc 84.1%,#2f81fa 86.8%,#347afd 89.0%,#416bfe 91.7%,#4756f7 93.3%,#4742e6 95.5%,#473ee2 97.7%,#4740e4 100.0%)"></i><i style="left:314.0px;width:2.5px;background:linear-gradient(#4849ed 0.0%,#4744e8 30.6%,#4745e9 62.2%,#4757f7 75.3%,#4369fe 80.2%,#327cfc 84.1%,#3080fb 87.3%,#3876fe 89.5%,#416bfe 91.7%,#4756f7 93.3%,#4742e6 95.5%,#463ee1 97.2%,#4740e4 100.0%)"></i><i style="left:316.0px;width:2.5px;background:linear-gradient(#4746eb 0.0%,#4742e6 25.1%,#4743e7 61.7%,#4755f6 75.3%,#426afe 80.8%,#327cfc 84.6%,#317efb 87.3%,#3974fe 89.5%,#426afe 91.7%,#4755f6 93.3%,#4741e5 95.5%,#463de0 97.2%,#473fe3 100.0%)"></i><i style="left:318.0px;width:2.5px;background:linear-gradient(#4743e7 0.0%,#473fe2 22.4%,#4740e4 61.1%,#4852f4 74.8%,#4368fe 80.8%,#327cfc 85.2%,#337bfd 87.9%,#4368fe 91.7%,#484df0 93.9%,#463de0 96.1%,#463ddf 98.3%,#463ee1 100.0%)"></i><i style="left:320.0px;width:2.5px;background:linear-gradient(#473fe3 0.0%,#463bdd 24.0%,#463de0 60.6%,#484ff2 74.8%,#4563fd 80.2%,#3678fe 84.6%,#347afd 87.3%,#4466fd 91.7%,#4851f3 93.3%,#463de0 95.5%,#463adb 97.2%,#463cdf 100.0%)"></i><i style="left:322.0px;width:2.5px;background:linear-gradient(#463cdf 0.0%,#4539d9 21.3%,#463adb 58.4%,#4747eb 72.6%,#4759f9 78.6%,#3f6fff 83.0%,#3678fe 85.7%,#3876fe 87.9%,#4563fd 91.7%,#4849ed 93.9%,#463cde 95.5%,#4539d9 96.6%,#463bdc 100.0%)"></i><i style="left:324.0px;width:2.5px;background:linear-gradient(#463adc 0.0%,#4537d5 21.8%,#4539d8 59.0%,#473fe3 67.1%,#4742e6 72.6%,#465ffb 80.2%,#3b73fe 84.6%,#3876fe 86.8%,#4465fd 91.2%,#4755f6 92.8%,#463de0 95.0%,#4537d6 96.6%,#4639da 100.0%)"></i><i style="left:326.0px;width:2.5px;background:linear-gradient(#4539d9 0.0%,#4535d2 21.8%,#4537d5 57.9%,#463cdf 66.0%,#463ee1 70.4%,#463de0 72.6%,#4851f4 77.5%,#4368fe 82.4%,#3a73fe 85.7%,#3c71ff 87.9%,#4660fb 91.7%,#484cef 93.3%,#463cde 95.0%,#4536d3 96.6%,#4538d8 100.0%)"></i><i style="left:328.0px;width:2.5px;background:linear-gradient(#4538d8 0.0%,#4435d1 20.2%,#4536d3 57.3%,#463bdd 66.0%,#463ddf 69.3%,#4539d9 72.1%,#4740e4 74.2%,#4850f3 77.5%,#4269fe 83.0%,#3b72ff 86.2%,#3f6efe 88.4%,#465efb 91.7%,#484aee 93.3%,#4538d7 95.5%,#4435d1 97.2%,#4537d6 100.0%)"></i><i style="left:330.0px;width:2.5px;background:linear-gradient(#4538d8 0.0%,#4435d0 21.8%,#4536d3 59.5%,#463cdf 68.8%,#4536d4 72.1%,#463bdd 73.7%,#4848ec 75.9%,#4563fd 81.9%,#3d70ff 85.7%,#3f6eff 87.9%,#465dfa 91.7%,#4851f3 92.8%,#463ee1 94.4%,#4435d1 96.1%,#4435d1 98.3%,#4536d4 100.0%)"></i><i style="left:332.0px;width:2.5px;background:linear-gradient(#4538d8 0.0%,#4435d0 20.7%,#4536d2 58.4%,#463cde 68.8%,#4536d3 72.1%,#463ee1 74.2%,#484df0 77.0%,#4465fd 82.4%,#3e6fff 85.7%,#3f6dfe 87.9%,#475cfa 91.7%,#4742e6 93.9%,#4536d4 95.5%,#4434ce 97.2%,#4536d4 100.0%)"></i><i style="left:334.0px;width:2.5px;background:linear-gradient(#4538d7 0.0%,#4435d0 22.9%,#4536d2 59.0%,#463cde 69.3%,#4537d7 72.1%,#463cde 73.7%,#484cf0 77.0%,#4464fd 82.4%,#3f6fff 85.7%,#416bfe 88.4%,#475cfa 91.7%,#4742e6 93.9%,#4434d0 96.1%,#4435d0 98.3%,#4536d3 100.0%)"></i><i style="left:336.0px;width:2.5px;background:linear-gradient(#4538d7 0.0%,#4434d0 20.2%,#4536d2 59.0%,#463cdf 69.3%,#463adb 72.1%,#484cf0 77.0%,#4368fe 83.5%,#3f6eff 86.8%,#465efb 91.2%,#484ff2 92.8%,#463cdf 94.4%,#4434cf 96.1%,#4434ce 97.7%,#4536d3 100.0%)"></i><i style="left:338.0px;width:2.5px;background:linear-gradient(#4538d7 0.0%,#4434d0 19.7%,#4536d2 59.0%,#463de0 70.4%,#473fe3 73.1%,#475cfa 80.8%,#406dfe 85.2%,#406dfe 87.3%,#475bf9 91.7%,#484ff2 92.8%,#463cdf 94.4%,#4434cf 96.1%,#4434ce 97.7%,#4536d3 100.0%)"></i><i style="left:340.0px;width:2.5px;background:linear-gradient(#4538d7 0.0%,#4435d0 22.9%,#4536d3 59.5%,#4743e7 73.7%,#4759f9 80.2%,#416bfe 84.6%,#406dfe 87.3%,#475bf9 91.7%,#4848ec 93.3%,#4539d9 95.0%,#4434cf 96.1%,#4435d1 98.8%,#4536d3 100.0%)"></i><i style="left:342.0px;width:2.5px;background:linear-gradient(#4539d9 0.0%,#4435d2 20.2%,#4536d4 59.0%,#473fe3 69.9%,#484df0 77.0%,#4466fd 83.0%,#406dfe 86.8%,#475bf9 91.7%,#4848ec 93.3%,#4536d4 95.5%,#4434ce 97.2%,#4536d4 100.0%)"></i><i style="left:344.0px;width:2.5px;background:linear-gradient(#463ada 0.0%,#4536d3 24.6%,#4537d6 60.0%,#4741e5 70.4%,#484ff2 77.5%,#426afe 84.1%,#406cfe 87.3%,#475bf9 91.7%,#484ff2 92.8%,#4639d9 95.0%,#4434cf 96.6%,#4537d5 100.0%)"></i><i style="left:346.0px;width:2.5px;background:linear-gradient(#463adc 0.0%,#4537d5 22.9%,#4538d7 60.0%,#4741e5 69.9%,#484ef1 77.0%,#4368fe 83.5%,#406dfe 86.8%,#475bf9 91.7%,#484ff2 92.8%,#4639da 95.0%,#4435d1 96.1%,#4536d2 98.3%,#4537d6 100.0%)"></i><i style="left:348.0px;width:2.5px;background:linear-gradient(#463bdd 0.0%,#4538d7 21.8%,#4538d8 60.0%,#4743e7 71.0%,#4850f3 77.5%,#426afe 84.1%,#406cfe 87.3%,#475bfa 91.7%,#4742e6 93.9%,#4536d2 96.1%,#4536d3 98.3%,#4537d7 100.0%)"></i><i style="left:350.0px;width:2.5px;background:linear-gradient(#463cde 0.0%,#4538d8 21.8%,#4639d9 60.6%,#4744e8 71.5%,#4850f3 77.5%,#4269fe 84.1%,#406dfe 86.8%,#475bfa 91.7%,#463ee1 94.4%,#4536d3 96.1%,#4536d5 98.3%,#4538d8 100.0%)"></i><i style="left:352.0px;width:2.5px;background:linear-gradient(#463cde 0.0%,#4538d7 23.5%,#4639d9 60.6%,#4743e7 70.4%,#4852f4 78.1%,#426afe 84.1%,#406cfe 87.3%,#475cfa 91.7%,#4849ed 93.3%,#4538d8 95.5%,#4536d3 97.2%,#4539d9 100.0%)"></i><i style="left:354.0px;width:2.5px;background:linear-gradient(#463bdc 0.0%,#4537d6 21.8%,#4538d7 57.3%,#473fe2 67.1%,#484ff2 77.0%,#4368fe 83.5%,#406dfe 86.8%,#475cfa 91.7%,#484aee 93.3%,#463cde 95.0%,#4537d6 96.1%,#4538d8 98.3%,#463adb 100.0%)"></i><i style="left:356.0px;width:2.5px;background:linear-gradient(#463adb 0.0%,#4537d5 21.3%,#4537d5 50.8%,#4536d4 55.1%,#4743e7 69.3%,#4852f4 77.5%,#4269fe 83.5%,#3f6efe 86.8%,#465dfb 91.7%,#4745ea 93.9%,#4538d8 96.1%,#4639da 98.3%,#463bdd 100.0%)"></i><i style="left:358.0px;width:2.5px;background:linear-gradient(#463bdd 0.0%,#4538d8 19.1%,#4538d8 49.7%,#4435d2 54.0%,#463de0 62.2%,#484ef1 75.3%,#4464fd 81.9%,#3e6fff 85.7%,#416bfe 88.4%,#465ffb 91.7%,#4747eb 93.9%,#463cde 95.5%,#4639da 97.2%,#463ddf 100.0%)"></i><i style="left:360.0px;width:2.5px;background:linear-gradient(#4740e4 0.0%,#463cdf 23.5%,#463cde 49.1%,#4536d4 53.5%,#4740e4 62.2%,#4852f4 75.9%,#4368fe 82.4%,#3d71ff 85.7%,#406cfe 88.4%,#4660fc 91.7%,#4740e4 95.0%,#463bdd 96.6%,#473fe2 100.0%)"></i><i style="left:362.0px;width:2.5px;background:linear-gradient(#4747eb 0.0%,#4742e6 31.1%,#4740e4 49.1%,#463adb 54.0%,#4744e8 61.7%,#4851f3 73.7%,#465efb 79.1%,#3c72ff 85.2%,#3c71ff 87.3%,#4562fc 91.7%,#4850f3 93.3%,#473fe2 95.5%,#463de0 97.7%,#4740e4 100.0%)"></i><i style="left:364.0px;width:2.5px;background:linear-gradient(#484df0 0.0%,#4848ec 27.3%,#4745e9 49.1%,#4740e4 54.6%,#4854f5 74.2%,#4562fc 79.7%,#3b73fe 85.2%,#3b72fe 87.3%,#4563fd 91.7%,#484cef 93.9%,#4740e4 95.5%,#473fe2 97.7%,#4742e6 100.0%)"></i><i style="left:366.0px;width:2.5px;background:linear-gradient(#4850f3 0.0%,#484aee 34.9%,#4746ea 51.3%,#4747eb 58.4%,#4851f3 71.0%,#465ffb 78.6%,#3a74fe 85.2%,#3c71ff 87.9%,#4564fd 91.7%,#4848ec 94.4%,#473ee2 96.6%,#4742e6 100.0%)"></i><i style="left:368.0px;width:2.5px;background:linear-gradient(#484ff2 0.0%,#4849ed 34.9%,#4747eb 59.0%,#4850f2 70.4%,#475bfa 77.5%,#3e70ff 83.5%,#3a73fe 86.8%,#465ffb 92.2%,#4747eb 94.4%,#473ee1 96.6%,#4742e6 100.0%)"></i><i style="left:370.0px;width:2.5px;background:linear-gradient(#484aee 0.0%,#4745ea 28.4%,#4746ea 62.8%,#4756f6 75.9%,#4369fe 81.9%,#3c72ff 86.2%,#416bfe 89.0%,#4562fc 91.7%,#484bee 93.9%,#473fe3 95.5%,#463ee1 97.7%,#4741e5 100.0%)"></i><i style="left:372.0px;width:2.5px;background:linear-gradient(#4744e8 0.0%,#4740e4 26.2%,#4742e6 62.2%,#4850f2 74.2%,#465efb 79.7%,#3f6fff 85.2%,#416bfe 88.4%,#4660fb 91.7%,#484ef1 93.3%,#463de0 95.5%,#463cde 97.7%,#473fe2 100.0%)"></i><i style="left:374.0px;width:2.5px;background:linear-gradient(#473ee1 0.0%,#463bdc 24.6%,#463de0 60.6%,#484aee 73.1%,#475bf9 79.7%,#416cfe 85.2%,#4368fe 88.4%,#4759f8 92.2%,#4741e5 94.4%,#4639d9 96.6%,#463ddf 100.0%)"></i><i style="left:376.0px;width:2.5px;background:linear-gradient(#463adb 0.0%,#4537d6 19.7%,#463ada 59.0%,#4743e8 72.1%,#475af9 80.2%,#4269fe 85.2%,#4367fd 87.9%,#475bf9 91.7%,#4849ed 93.3%,#4639d9 95.5%,#4538d7 97.7%,#463bdc 100.0%)"></i><i style="left:378.0px;width:2.5px;background:linear-gradient(#4539d9 0.0%,#4535d2 19.7%,#4537d6 59.0%,#463de0 69.3%,#473fe2 72.1%,#4852f4 78.6%,#4465fd 84.1%,#4465fd 87.9%,#4854f5 92.2%,#463de0 94.4%,#4536d3 96.1%,#4536d4 97.7%,#4539d9 100.0%)"></i><i style="left:380.0px;width:2.5px;background:linear-gradient(#4538d8 0.0%,#4435d1 20.2%,#4536d3 57.9%,#463bdc 68.2%,#4639d9 71.5%,#4747eb 75.3%,#4660fb 83.0%,#4465fd 86.2%,#475dfa 89.5%,#4757f7 91.7%,#4740e3 93.9%,#4536d3 95.5%,#4434cf 97.2%,#4537d6 100.0%)"></i><i style="left:382.0px;width:2.5px;background:linear-gradient(#4538d8 0.0%,#4435d0 20.7%,#4536d2 58.4%,#463ada 67.7%,#4435d1 71.0%,#463bdd 73.1%,#4745e9 75.3%,#4660fc 83.5%,#4564fd 86.8%,#4755f6 91.7%,#4744e8 93.3%,#4537d5 95.0%,#4433cd 96.1%,#4536d4 100.0%)"></i><i style="left:384.0px;width:2.5px;background:linear-gradient(#4538d7 0.0%,#4435d0 21.8%,#4535d2 59.5%,#4639d9 67.7%,#4433cc 71.0%,#4435d0 72.1%,#4742e6 74.8%,#465efb 83.0%,#4563fd 86.2%,#475dfa 89.0%,#4854f5 91.7%,#4743e7 93.3%,#4536d4 95.0%,#4332ca 96.6%,#4536d2 100.0%)"></i><i style="left:386.0px;width:2.5px;background:linear-gradient(#4538d7 0.0%,#4434d0 19.7%,#4435d1 59.0%,#4539d9 67.7%,#4433cb 71.0%,#4434d0 72.1%,#4742e6 74.8%,#465dfb 83.0%,#4562fc 86.2%,#475af9 89.5%,#4854f5 91.7%,#4742e6 93.3%,#4434ce 95.5%,#4332c9 96.6%,#4435d1 100.0%)"></i><i style="left:388.0px;width:2.5px;background:linear-gradient(#4538d7 0.0%,#4434cf 20.7%,#4435d1 59.5%,#4539d9 67.7%,#4434cf 71.0%,#463adb 73.1%,#4746ea 75.9%,#465efb 83.5%,#4562fc 86.8%,#4853f5 91.7%,#4742e6 93.3%,#4535d2 95.0%,#4332ca 96.1%,#4332cb 97.7%,#4435d1 100.0%)"></i><i style="left:390.0px;width:2.5px;background:linear-gradient(#4537d7 0.0%,#4434cf 19.7%,#4435d1 59.5%,#4639d9 68.2%,#4537d6 71.5%,#4746ea 75.9%,#465efb 83.5%,#4561fc 86.8%,#4853f5 91.7%,#463cdf 93.9%,#4433cd 95.5%,#4332c8 96.6%,#4435d1 100.0%)"></i><i style="left:392.0px;width:2.5px;background:linear-gradient(#4537d6 0.0%,#4434cf 20.2%,#4435d1 59.5%,#4639da 69.3%,#463adb 71.5%,#484aee 77.5%,#465ffb 84.1%,#465ffb 87.9%,#4853f5 91.7%,#463cdf 93.9%,#4433cd 95.5%,#4332c8 96.6%,#4435d1 100.0%)"></i><i style="left:394.0px;width:2.5px;background:linear-gradient(#4537d7 0.0%,#4434cf 19.7%,#4535d2 60.0%,#463de0 72.1%,#4852f4 79.7%,#4561fc 85.2%,#465dfa 88.4%,#4853f5 91.7%,#463cdf 93.9%,#4433cd 95.5%,#4332c9 97.2%,#4435d1 100.0%)"></i><i style="left:396.0px;width:2.5px;background:linear-gradient(#4538d7 0.0%,#4435d0 22.9%,#4536d3 60.6%,#4740e3 72.6%,#4850f3 79.1%,#4660fc 84.6%,#465ffb 87.9%,#484ff2 92.2%,#4539d8 94.4%,#4332cb 96.1%,#4332ca 97.2%,#4435d2 100.0%)"></i><i style="left:398.0px;width:2.5px;background:linear-gradient(#4539d9 0.0%,#4435d2 20.2%,#4536d4 60.0%,#4741e5 72.6%,#4850f3 79.1%,#4661fc 84.6%,#465ffb 87.9%,#484ff2 92.2%,#4539d9 94.4%,#4433cb 96.1%,#4536d2 100.0%)"></i><i style="left:400.0px;width:2.5px;background:linear-gradient(#463ada 0.0%,#4536d3 23.5%,#4537d5 60.0%,#4740e4 71.5%,#484df0 78.1%,#4660fb 84.1%,#4660fc 87.3%,#4853f5 91.7%,#4742e6 93.3%,#4434cf 95.5%,#4433cb 97.2%,#4536d3 100.0%)"></i><i style="left:402.0px;width:2.5px;background:linear-gradient(#463adc 0.0%,#4537d5 20.7%,#4537d6 60.0%,#4742e6 72.6%,#4851f3 79.1%,#4561fc 84.6%,#465ffb 87.9%,#4854f5 91.7%,#4743e7 93.3%,#4536d4 95.0%,#4433cb 96.6%,#4536d4 100.0%)"></i><i style="left:404.0px;width:2.5px;background:linear-gradient(#463bdd 0.0%,#4537d6 19.7%,#4538d7 61.1%,#4743e7 73.1%,#4853f5 79.7%,#4561fc 84.6%,#465ffb 87.9%,#4854f5 91.7%,#4743e7 93.3%,#4536d4 95.0%,#4433cc 96.6%,#4536d4 100.0%)"></i><i style="left:406.0px;width:2.5px;background:linear-gradient(#463bdc 0.0%,#4537d5 23.5%,#4538d7 60.6%,#4741e5 71.5%,#484ff2 78.6%,#4661fc 84.6%,#465ffb 87.9%,#4854f5 91.7%,#463ee1 93.9%,#4433cd 96.1%,#4535d2 98.8%,#4536d5 100.0%)"></i><i style="left:408.0px;width:2.5px;background:linear-gradient(#463adb 0.0%,#4536d5 21.8%,#4538d7 61.1%,#4743e7 73.1%,#4853f5 79.7%,#4661fc 84.6%,#465ffb 87.9%,#4854f5 91.7%,#463ee1 93.9%,#4433cd 96.1%,#4536d2 98.8%,#4537d5 100.0%)"></i><i style="left:410.0px;width:2.5px;background:linear-gradient(#463adb 0.0%,#4536d4 20.7%,#4537d6 59.5%,#4740e4 71.0%,#484ff2 78.6%,#4660fb 84.1%,#465ffb 87.9%,#4854f5 91.7%,#463ee1 93.9%,#4434cd 96.1%,#4435d1 98.3%,#4537d5 100.0%)"></i><i style="left:412.0px;width:2.5px;background:linear-gradient(#463ada 0.0%,#4536d4 21.8%,#4537d6 59.5%,#4741e5 71.5%,#484ff2 78.6%,#465ffb 84.1%,#4660fb 87.3%,#4853f5 91.7%,#463ee1 93.9%,#4435d0 95.5%,#4434cd 97.2%,#4537d5 100.0%)"></i><i style="left:414.0px;width:2.5px;background:linear-gradient(#463adc 0.0%,#4537d5 20.7%,#4538d7 60.6%,#4744e8 73.7%,#4853f5 79.7%,#4561fc 85.2%,#475dfa 88.4%,#484ff2 92.2%,#463adb 94.4%,#4434ce 96.1%,#4536d3 98.8%,#4537d6 100.0%)"></i><i style="left:416.0px;width:1.3px;background:linear-gradient(#463bdd 0.0%,#4537d6 22.9%,#4538d8 61.1%,#4745e9 74.2%,#475af9 81.9%,#4561fc 86.2%,#4853f5 91.7%,#463ee1 93.9%,#4434ce 96.1%,#4435d2 98.3%,#4537d6 100.0%)"></i></div>
<svg width="550" height="461" viewBox="0 0 550 461" style="position:absolute;left:0;top:0" font-family='"Liberation Serif", "DejaVu Serif", serif' font-size="16.7" fill="#000" xml:space="preserve">
<line x1="65.0" y1="66.5" x2="482.3" y2="66.5" stroke="#000" stroke-width="1.5" stroke-dasharray="5.5 4.5" stroke-dashoffset="6.6"/>
<polyline points="65.5,66.5 66.8,77.8 68.2,76.9 70.0,62.8 73.6,62.4 75.9,56.0 77.7,61.5 79.5,70.5 81.8,82.4 83.8,69.6 87.3,68.3 89.1,51.0 90.5,54.6 91.4,55.1 92.3,68.7 94.1,78.3 96.4,71.5 99.1,67.8 102.3,57.8 103.6,56.9 105.5,66.9 108.2,73.3 110.0,72.8 111.8,72.4 114.1,63.3 116.2,57.8 118.2,65.1 120.5,74.2 121.8,76.0 123.6,73.3 126.4,72.8 128.2,66.9 129.5,67.8 131.8,73.7 134.1,65.5 136.4,63.7 140.0,62.8 140.9,60.5 142.3,63.3 144.1,68.7 146.4,75.5 148.2,67.8 150.0,61.0 154.1,59.2 155.5,61.9 157.3,69.6 159.1,77.8 160.0,76.0 161.8,61.5 163.6,56.9 165.0,59.6 168.2,62.4 169.5,68.7 170.9,76.5 172.7,69.6 174.5,60.5 176.4,56.9 177.7,59.6 181.8,57.8 183.6,66.0 186.4,79.6 188.2,72.4 190.0,62.4 191.8,58.3 196.4,57.4 198.2,61.5 200.5,72.4 202.3,80.1 203.6,73.3 205.5,56.9 206.8,50.1 210.0,50.5 212.3,49.2 214.1,66.0 215.0,67.4 217.3,78.7 220.0,69.6 222.7,63.3 227.3,63.7 229.5,57.4 230.9,54.6 232.7,61.5 234.5,73.3 236.4,79.2 238.6,76.0 241.8,75.1 244.1,64.2 245.9,59.2 247.3,62.4 249.5,72.4 251.4,76.0 252.7,69.6 257.3,67.8 259.1,61.5 260.0,57.8 261.4,54.2 262.7,61.5 264.1,66.0 265.9,77.8 267.3,76.0 269.1,69.6 275.9,69.2 277.7,61.0 279.1,61.5 281.4,66.9 284.1,72.8 285.9,67.8 290.9,65.1 292.7,61.0 294.1,57.4 295.5,61.5 297.3,68.7 299.1,76.5 300.9,76.0 304.5,74.2 306.8,68.3 309.1,63.7 310.0,64.2 311.6,57.4 313.2,66.0 315.0,71.0 317.7,71.9 319.1,74.2 320.9,67.8 323.2,61.0 324.5,62.8 326.4,68.7 327.7,66.0 329.1,64.6 331.4,68.7 334.1,73.7 336.4,71.9 339.1,70.1 340.5,61.9 341.4,72.4 344.1,74.6 345.9,70.1 347.7,63.3 349.5,58.7 351.8,58.7 353.2,57.4 355.0,63.3 356.8,69.6 358.6,74.2 360.0,72.4 360.9,68.3 364.5,66.5 366.4,64.2 368.2,63.7 370.0,68.7 371.4,72.4 372.7,69.2 374.5,60.1 375.9,64.2 377.3,65.5 378.6,68.7 380.5,59.6 381.4,64.2 383.6,65.5 385.9,68.7 387.7,70.1 390.0,68.7 394.1,68.3 396.4,66.5 399.1,66.0 400.9,67.4 402.3,66.5 404.1,67.8 405.9,65.5 408.2,66.0 410.0,65.5 412.7,65.5 415.0,64.2 417.7,66.0 419.5,69.6 421.4,72.8 422.7,69.2 427.7,68.3 429.5,62.8 430.9,67.8 432.3,64.6 433.6,73.3 435.0,67.4 436.8,61.5 439.1,63.3 440.9,64.2 442.7,62.8 444.1,66.5 445.9,70.1 448.6,70.5 450.9,67.4 452.7,63.3 457.7,63.3 460.9,61.9 462.7,65.5 465.0,68.3 467.7,65.5 470.0,66.5 472.3,68.3 475.9,68.3 478.2,69.6 480.0,66.5 481.8,67.4" fill="none" stroke="#0d72c4" stroke-width="1.85" stroke-linejoin="round"/>
<polyline points="383.6,65.5 385.9,68.7 387.7,70.1 390.0,68.7 394.1,68.3 396.4,66.5 399.1,66.0 400.9,67.4 402.3,66.5 404.1,67.8 405.9,65.5 408.2,66.0 410.0,65.5 412.7,65.5 415.0,64.2 417.7,66.0 419.5,69.6 421.4,72.8 422.7,69.2 427.7,68.3 429.5,62.8 430.9,67.8 432.3,64.6 433.6,73.3 435.0,67.4 436.8,61.5 439.1,63.3 440.9,64.2 442.7,62.8 444.1,66.5 445.9,70.1 448.6,70.5 450.9,67.4 452.7,63.3 457.7,63.3 460.9,61.9 462.7,65.5 465.0,68.3 467.7,65.5 470.0,66.5 472.3,68.3 475.9,68.3 478.2,69.6 480.0,66.5 481.8,67.4" fill="none" stroke="#0d72c4" stroke-width="2.5" stroke-linejoin="round"/>
<rect x="65.0" y="28.0" width="417.3" height="77.0" fill="none" stroke="#000" stroke-width="1.5"/>
<path d="M204.1 105.0 v-8 M204.1 28.0 v8 M343.2 105.0 v-8 M343.2 28.0 v8" stroke="#000" stroke-width="0.8" fill="none"/>
<path d="M65.0 47.2 h4.5 M482.3 47.2 h-4.5 M65.0 66.5 h4.5 M482.3 66.5 h-4.5 M65.0 85.8 h4.5 M482.3 85.8 h-4.5" stroke="#444" stroke-width="0.6" fill="none"/>
<text x="59.6" y="33.6" text-anchor="end">3</text>
<text x="59.6" y="52.9" text-anchor="end">1.5</text>
<text x="59.6" y="72.1" text-anchor="end">0</text>
<text x="59.6" y="91.3" text-anchor="end">-1.5</text>
<text x="59.6" y="110.6" text-anchor="end">-3</text>
<text x="64.0" y="127.7" text-anchor="middle">3.6</text>
<text x="203.1" y="127.7" text-anchor="middle">3.7</text>
<text x="342.2" y="127.7" text-anchor="middle">3.8</text>
<text x="481.3" y="127.7" text-anchor="middle">3.9</text>
<text x="285.4" y="143.2" text-anchor="middle">Distance [km]</text>
<text transform="translate(14.2,68.6) rotate(-90)" text-anchor="middle">Car-body vertical</text>
<text transform="translate(35.5,69) rotate(-90)" text-anchor="middle">acceleration&#160; [m/s<tspan font-size="11" dy="-5.5">2</tspan><tspan dy="5.5">]</tspan></text>
<path d="M204.1 258.3 v-8 M343.2 258.3 v-8" stroke="#fff" stroke-width="1.1" opacity="0.85"/>
<rect x="65.0" y="166.7" width="417.3" height="91.6" fill="none" stroke="#000" stroke-width="1.5"/>
<defs><linearGradient id="cb166" x1="0" y1="0" x2="0" y2="1"><stop offset="0.000" stop-color="#f9fb15"/><stop offset="0.031" stop-color="#f6ef20"/><stop offset="0.062" stop-color="#f5e327"/><stop offset="0.094" stop-color="#f9d62d"/><stop offset="0.125" stop-color="#feca33"/><stop offset="0.156" stop-color="#febe3c"/><stop offset="0.188" stop-color="#f1ba37"/><stop offset="0.219" stop-color="#debc2a"/><stop offset="0.250" stop-color="#c8c129"/><stop offset="0.281" stop-color="#afc637"/><stop offset="0.312" stop-color="#94ca4a"/><stop offset="0.344" stop-color="#77cc60"/><stop offset="0.375" stop-color="#5ccc76"/><stop offset="0.406" stop-color="#44ca8a"/><stop offset="0.438" stop-color="#34c79c"/><stop offset="0.469" stop-color="#28c2ab"/><stop offset="0.500" stop-color="#12beb9"/><stop offset="0.531" stop-color="#01b9c6"/><stop offset="0.562" stop-color="#0cb3d3"/><stop offset="0.594" stop-color="#1aacdd"/><stop offset="0.625" stop-color="#21a3e3"/><stop offset="0.656" stop-color="#269ae9"/><stop offset="0.688" stop-color="#2c90f0"/><stop offset="0.719" stop-color="#2e85f8"/><stop offset="0.750" stop-color="#347afd"/><stop offset="0.781" stop-color="#3f6efe"/><stop offset="0.812" stop-color="#4562fc"/><stop offset="0.844" stop-color="#4757f7"/><stop offset="0.875" stop-color="#484cef"/><stop offset="0.906" stop-color="#4741e5"/><stop offset="0.938" stop-color="#4536d5"/><stop offset="0.969" stop-color="#422ebf"/><stop offset="1.000" stop-color="#3e26a8"/></linearGradient></defs>
<rect x="491.3" y="166.7" width="28.0" height="92.3" fill="url(#cb166)" stroke="#000" stroke-width="1.4"/>
<text x="59.6" y="172.3" text-anchor="end">5</text>
<text x="59.6" y="190.6" text-anchor="end">4</text>
<text x="59.6" y="208.9" text-anchor="end">3</text>
<text x="59.6" y="227.3" text-anchor="end">2</text>
<text x="59.6" y="245.6" text-anchor="end">1</text>
<text x="63.0" y="278.2" text-anchor="middle">3.6</text>
<text x="202.1" y="278.2" text-anchor="middle">3.7</text>
<text x="341.2" y="278.2" text-anchor="middle">3.8</text>
<text x="480.3" y="278.2" text-anchor="middle">3.9</text>
<text x="285.4" y="297.3" text-anchor="middle">Distance [km]</text>
<text transform="translate(28.0,213.3) rotate(-90)" text-anchor="middle">Frequency [Hz]</text>
<text x="79.5" y="189.6" fill="#fff" font-size="18.6">CWT</text>
<text x="523.4" y="172.3">1</text>
<text x="523.4" y="218.4">0.5</text>
<text x="523.4" y="264.6">0</text>
<rect x="65.0" y="322.7" width="417.3" height="91.7" fill="#0400a0" stroke="#000" stroke-width="1.5"/>
<path d="M204.1 414.4 v-7 M343.2 414.4 v-7 M204.1 322.7 v7 M343.2 322.7 v7" stroke="#fff" stroke-width="1.1" opacity="0.8"/>
<path d="M86.0 395.9 L89.3 389.4 L91.5 374.2 L92.5 352.5 L93.8 374.2 L95.8 389.4 L100.1 398.1" fill="none" stroke="#5a5ae0" stroke-width="1.1" opacity="0.15" stroke-linejoin="round"/><path d="M129.4 402.4 L131.1 385.1 L132.0 362.3 L133.1 385.1 L134.8 402.4" fill="none" stroke="#5a5ae0" stroke-width="1.1" opacity="0.15" stroke-linejoin="round"/><path d="M68.7 407.9 L81.7 405.7 L94.7 405.7 L109.9 408.5" fill="none" stroke="#5a5ae0" stroke-width="1.1" opacity="0.15" stroke-linejoin="round"/><path d="M175.6 376.4 L176.9 346.0 L177.8 328.7 L178.7 346.0 L180.0 376.4" fill="none" stroke="#5a5ae0" stroke-width="1.1" opacity="0.15" stroke-linejoin="round"/><path d="M216.0 385.1 L217.3 367.7 L218.1 352.5 L219.0 367.7 L220.3 385.1" fill="none" stroke="#5a5ae0" stroke-width="1.1" opacity="0.15" stroke-linejoin="round"/><path d="M231.6 407.9 L246.8 408.5 L258.7 406.8 L261.5 395.9 L263.7 382.9 L265.9 363.4" fill="none" stroke="#5a5ae0" stroke-width="1.1" opacity="0.15" stroke-linejoin="round"/><path d="M267.2 385.1 L270.4 398.1 L275.8 405.7 L284.5 406.8 L291.0 403.5 L294.3 395.9" fill="none" stroke="#5a5ae0" stroke-width="1.1" opacity="0.15" stroke-linejoin="round"/><path d="M309.5 404.6 L311.4 374.2 L312.7 341.7 L314.0 374.2 L316.0 404.6" fill="none" stroke="#5a5ae0" stroke-width="1.1" opacity="0.06" stroke-linejoin="round"/><path d="M344.8 363.4 L346.1 333.0 L347.4 363.4 L349.6 385.1 L353.9 393.8 L358.3 394.8" fill="none" stroke="#5a5ae0" stroke-width="1.1" opacity="0.06" stroke-linejoin="round"/><path d="M377.2 391.6 L381.5 382.9 L388.0 395.9 L394.5 402.4" fill="none" stroke="#5a5ae0" stroke-width="1.1" opacity="0.06" stroke-linejoin="round"/><path d="M386.9 363.4 L388.4 333.0 L390.2 363.4 L392.4 391.6" fill="none" stroke="#5a5ae0" stroke-width="1.1" opacity="0.06" stroke-linejoin="round"/><path d="M429.2 404.6 L431.0 385.1 L431.8 377.5 L433.1 385.1 L435.7 395.9 L444.4 402.4" fill="none" stroke="#5a5ae0" stroke-width="1.1" opacity="0.06" stroke-linejoin="round"/><path d="M66.5 387.2 L68.2 392.7 L70.4 389.4 L72.6 392.7 L74.8 390.5 L77.4 393.8 L80.6 395.9 L83.9 397.0 L86.5 393.8 L88.2 389.4" fill="none" stroke="#426afe" stroke-width="2.6" stroke-linejoin="round" stroke-linecap="round" opacity="0.30"/><path d="M88.2 389.4 L91.5 388.3 L93.6 387.2 L96.9 390.5 L99.0 395.9" fill="none" stroke="#4850f2" stroke-width="2.6" stroke-linejoin="round" stroke-linecap="round" opacity="0.30"/><path d="M99.0 395.9 L100.8 399.2 L102.3 394.8 L103.4 399.2 L104.9 395.9 L106.0 399.2 L107.7 394.8 L111.0 392.7" fill="none" stroke="#4564fd" stroke-width="2.6" stroke-linejoin="round" stroke-linecap="round" opacity="0.30"/><path d="M111.0 392.7 L114.2 391.6 L117.5 390.5 L120.7 389.4 L124.0 389.0 L126.2 388.3" fill="none" stroke="#4850f2" stroke-width="2.6" stroke-linejoin="round" stroke-linecap="round" opacity="0.30"/><path d="M126.2 388.3 L127.2 401.3 L129.0 402.4" fill="none" stroke="#4435d0" stroke-width="2.6" stroke-linejoin="round" stroke-linecap="round" opacity="0.15"/><path d="M141.3 385.1 L142.4 390.5 L143.5 384.0 L145.0 389.4 L146.8 385.1 L148.9 389.4 L152.2 391.6 L155.4 389.8 L158.7 391.6 L160.9 388.3 L163.0 391.1 L165.2 387.7 L167.4 389.8 L170.0 387.2" fill="none" stroke="#484aee" stroke-width="2.6" stroke-linejoin="round" stroke-linecap="round" opacity="0.27"/><path d="M160.0 389.4 L162.2 387.2 L164.3 390.5 L166.5 386.2 L168.2 389.0 L170.4 384.0 L172.6 381.8 L174.1 391.6 L175.6 385.1 L177.4 377.5 L179.1 385.1 L180.6 393.8" fill="none" stroke="#484df0" stroke-width="2.6" stroke-linejoin="round" stroke-linecap="round" opacity="0.29"/><path d="M180.6 393.8 L182.8 397.0 L186.0 398.1 L189.3 394.8 L192.5 392.7 L194.7 393.8" fill="none" stroke="#465efb" stroke-width="2.6" stroke-linejoin="round" stroke-linecap="round" opacity="0.30"/><path d="M194.7 393.8 L195.4 381.8 L196.2 398.1 L197.3 389.4 L198.6 402.4 L200.1 391.6 L201.6 395.9 L203.0 400.3 L204.5 393.8 L205.6 402.4 L207.1 388.3 L208.2 406.8 L209.5 387.2 L211.0 394.8" fill="none" stroke="#2797ea" stroke-width="2.6" stroke-linejoin="round" stroke-linecap="round" opacity="0.30"/><path d="M211.0 394.8 L212.5 386.2 L214.2 381.8 L215.5 377.5 L216.8 385.1 L218.1 382.9 L219.7 387.2 L221.8 393.8 L224.0 392.7 L226.2 399.2 L229.0 403.5" fill="none" stroke="#4564fd" stroke-width="2.6" stroke-linejoin="round" stroke-linecap="round" opacity="0.30"/><path d="M229.0 403.5 L231.6 398.1 L234.8 393.8 L238.1 391.6 L241.3 392.7 L243.5 394.8 L245.0 387.2 L246.8 389.4 L248.5 394.8 L250.0 390.5 L252.2 391.6 L253.7 395.9 L255.4 390.5 L257.6 391.6 L260.2 389.4" fill="none" stroke="#4758f8" stroke-width="2.6" stroke-linejoin="round" stroke-linecap="round" opacity="0.30"/><path d="M260.2 389.4 L262.0 385.1 L264.1 382.9 L266.3 387.2 L268.5 391.6 L270.0 389.4" fill="none" stroke="#4744e9" stroke-width="2.6" stroke-linejoin="round" stroke-linecap="round" opacity="0.24"/><path d="M265.0 385.1 L267.2 382.9 L268.9 389.4 L271.1 395.9 L273.2 391.6 L275.4 393.8 L277.6 389.4 L279.8 394.8 L281.9 391.6 L283.4 400.3 L285.0 389.4 L286.7 382.9 L288.4 393.8 L289.9 398.1 L291.5 387.2 L293.2 390.5 L295.4 397.0 L297.5 392.7 L299.7 400.3 L303.0 403.5" fill="none" stroke="#4536d3" stroke-width="2.6" stroke-linejoin="round" stroke-linecap="round" opacity="0.16"/><path d="M303.0 403.5 L306.2 404.6 L310.6 401.3" fill="none" stroke="#422ec0" stroke-width="2.6" stroke-linejoin="round" stroke-linecap="round" opacity="0.10"/><path d="M317.1 393.8 L318.8 400.3 L320.3 394.8 L321.8 391.6 L323.6 385.1 L324.7 393.8 L326.2 395.9 L327.9 394.8" fill="none" stroke="#4434ce" stroke-width="2.6" stroke-linejoin="round" stroke-linecap="round" opacity="0.14"/><path d="M358.3 393.8 L360.4 395.9 L362.6 392.7 L364.8 394.8 L367.0 398.1 L369.1 395.9 L371.3 399.2 L375.0 400.3" fill="none" stroke="#4332c8" stroke-width="2.6" stroke-linejoin="round" stroke-linecap="round" opacity="0.13"/><path d="M66.5 387.2 L68.2 392.7 L70.4 389.4 L72.6 392.7 L74.8 390.5 L77.4 393.8 L80.6 395.9 L83.9 397.0 L86.5 393.8 L88.2 389.4" fill="none" stroke="#317efb" stroke-width="1.2" stroke-linejoin="round" stroke-linecap="round" opacity="1.00"/><path d="M88.2 389.4 L91.5 388.3 L93.6 387.2 L96.9 390.5 L99.0 395.9" fill="none" stroke="#475cfa" stroke-width="1.2" stroke-linejoin="round" stroke-linecap="round" opacity="1.00"/><path d="M99.0 395.9 L100.8 399.2 L102.3 394.8 L103.4 399.2 L104.9 395.9 L106.0 399.2 L107.7 394.8 L111.0 392.7" fill="none" stroke="#3876fe" stroke-width="1.2" stroke-linejoin="round" stroke-linecap="round" opacity="1.00"/><path d="M111.0 392.7 L114.2 391.6 L117.5 390.5 L120.7 389.4 L124.0 389.0 L126.2 388.3" fill="none" stroke="#475cfa" stroke-width="1.2" stroke-linejoin="round" stroke-linecap="round" opacity="1.00"/><path d="M126.2 388.3 L127.2 401.3 L129.0 402.4" fill="none" stroke="#4539d9" stroke-width="1.2" stroke-linejoin="round" stroke-linecap="round" opacity="0.50"/><path d="M141.3 385.1 L142.4 390.5 L143.5 384.0 L145.0 389.4 L146.8 385.1 L148.9 389.4 L152.2 391.6 L155.4 389.8 L158.7 391.6 L160.9 388.3 L163.0 391.1 L165.2 387.7 L167.4 389.8 L170.0 387.2" fill="none" stroke="#4755f6" stroke-width="1.2" stroke-linejoin="round" stroke-linecap="round" opacity="0.90"/><path d="M160.0 389.4 L162.2 387.2 L164.3 390.5 L166.5 386.2 L168.2 389.0 L170.4 384.0 L172.6 381.8 L174.1 391.6 L175.6 385.1 L177.4 377.5 L179.1 385.1 L180.6 393.8" fill="none" stroke="#4758f8" stroke-width="1.2" stroke-linejoin="round" stroke-linecap="round" opacity="0.95"/><path d="M180.6 393.8 L182.8 397.0 L186.0 398.1 L189.3 394.8 L192.5 392.7 L194.7 393.8" fill="none" stroke="#3f6eff" stroke-width="1.2" stroke-linejoin="round" stroke-linecap="round" opacity="1.00"/><path d="M194.7 393.8 L195.4 381.8 L196.2 398.1 L197.3 389.4 L198.6 402.4 L200.1 391.6 L201.6 395.9 L203.0 400.3 L204.5 393.8 L205.6 402.4 L207.1 388.3 L208.2 406.8 L209.5 387.2 L211.0 394.8" fill="none" stroke="#15afd9" stroke-width="1.2" stroke-linejoin="round" stroke-linecap="round" opacity="1.00"/><path d="M211.0 394.8 L212.5 386.2 L214.2 381.8 L215.5 377.5 L216.8 385.1 L218.1 382.9 L219.7 387.2 L221.8 393.8 L224.0 392.7 L226.2 399.2 L229.0 403.5" fill="none" stroke="#3876fe" stroke-width="1.2" stroke-linejoin="round" stroke-linecap="round" opacity="1.00"/><path d="M229.0 403.5 L231.6 398.1 L234.8 393.8 L238.1 391.6 L241.3 392.7 L243.5 394.8 L245.0 387.2 L246.8 389.4 L248.5 394.8 L250.0 390.5 L252.2 391.6 L253.7 395.9 L255.4 390.5 L257.6 391.6 L260.2 389.4" fill="none" stroke="#4367fd" stroke-width="1.2" stroke-linejoin="round" stroke-linecap="round" opacity="1.00"/><path d="M260.2 389.4 L262.0 385.1 L264.1 382.9 L266.3 387.2 L268.5 391.6 L270.0 389.4" fill="none" stroke="#484ef1" stroke-width="1.2" stroke-linejoin="round" stroke-linecap="round" opacity="0.80"/><path d="M265.0 385.1 L267.2 382.9 L268.9 389.4 L271.1 395.9 L273.2 391.6 L275.4 393.8 L277.6 389.4 L279.8 394.8 L281.9 391.6 L283.4 400.3 L285.0 389.4 L286.7 382.9 L288.4 393.8 L289.9 398.1 L291.5 387.2 L293.2 390.5 L295.4 397.0 L297.5 392.7 L299.7 400.3 L303.0 403.5" fill="none" stroke="#463adc" stroke-width="1.2" stroke-linejoin="round" stroke-linecap="round" opacity="0.53"/><path d="M303.0 403.5 L306.2 404.6 L310.6 401.3" fill="none" stroke="#4330c5" stroke-width="1.2" stroke-linejoin="round" stroke-linecap="round" opacity="0.35"/><path d="M317.1 393.8 L318.8 400.3 L320.3 394.8 L321.8 391.6 L323.6 385.1 L324.7 393.8 L326.2 395.9 L327.9 394.8" fill="none" stroke="#4537d6" stroke-width="1.2" stroke-linejoin="round" stroke-linecap="round" opacity="0.47"/><path d="M358.3 393.8 L360.4 395.9 L362.6 392.7 L364.8 394.8 L367.0 398.1 L369.1 395.9 L371.3 399.2 L375.0 400.3" fill="none" stroke="#4434d0" stroke-width="1.2" stroke-linejoin="round" stroke-linecap="round" opacity="0.43"/>
<rect x="65.0" y="322.7" width="417.3" height="91.7" fill="none" stroke="#000" stroke-width="1.5"/>
<defs><linearGradient id="cb321" x1="0" y1="0" x2="0" y2="1"><stop offset="0.000" stop-color="#f9fb15"/><stop offset="0.031" stop-color="#f6ef20"/><stop offset="0.062" stop-color="#f5e327"/><stop offset="0.094" stop-color="#f9d62d"/><stop offset="0.125" stop-color="#feca33"/><stop offset="0.156" stop-color="#febe3c"/><stop offset="0.188" stop-color="#f1ba37"/><stop offset="0.219" stop-color="#debc2a"/><stop offset="0.250" stop-color="#c8c129"/><stop offset="0.281" stop-color="#afc637"/><stop offset="0.312" stop-color="#94ca4a"/><stop offset="0.344" stop-color="#77cc60"/><stop offset="0.375" stop-color="#5ccc76"/><stop offset="0.406" stop-color="#44ca8a"/><stop offset="0.438" stop-color="#34c79c"/><stop offset="0.469" stop-color="#28c2ab"/><stop offset="0.500" stop-color="#12beb9"/><stop offset="0.531" stop-color="#01b9c6"/><stop offset="0.562" stop-color="#0cb3d3"/><stop offset="0.594" stop-color="#1aacdd"/><stop offset="0.625" stop-color="#21a3e3"/><stop offset="0.656" stop-color="#269ae9"/><stop offset="0.688" stop-color="#2c90f0"/><stop offset="0.719" stop-color="#2e85f8"/><stop offset="0.750" stop-color="#347afd"/><stop offset="0.781" stop-color="#3f6efe"/><stop offset="0.812" stop-color="#4562fc"/><stop offset="0.844" stop-color="#4757f7"/><stop offset="0.875" stop-color="#484cef"/><stop offset="0.906" stop-color="#4741e5"/><stop offset="0.938" stop-color="#4536d5"/><stop offset="0.969" stop-color="#422ebf"/><stop offset="1.000" stop-color="#3e26a8"/></linearGradient></defs>
<rect x="491.3" y="321.4" width="28.0" height="93.0" fill="url(#cb321)" stroke="#000" stroke-width="1.4"/>
<text x="59.6" y="328.3" text-anchor="end">5</text>
<text x="59.6" y="346.6" text-anchor="end">4</text>
<text x="59.6" y="365.0" text-anchor="end">3</text>
<text x="59.6" y="383.3" text-anchor="end">2</text>
<text x="59.6" y="401.7" text-anchor="end">1</text>
<text x="63.0" y="434.3" text-anchor="middle">3.6</text>
<text x="202.1" y="434.3" text-anchor="middle">3.7</text>
<text x="341.2" y="434.3" text-anchor="middle">3.8</text>
<text x="480.3" y="434.3" text-anchor="middle">3.9</text>
<text x="285.4" y="453.4" text-anchor="middle">Distance [km]</text>
<text transform="translate(28.0,369.3) rotate(-90)" text-anchor="middle">Frequency [Hz]</text>
<text x="85.0" y="346.6" fill="#fff" font-size="17.9">HHT</text>
<text x="523.4" y="327.0">3</text>
<text x="523.4" y="373.5">1.5</text>
<text x="523.4" y="420.0">0</text>
</svg>
</body></html>
